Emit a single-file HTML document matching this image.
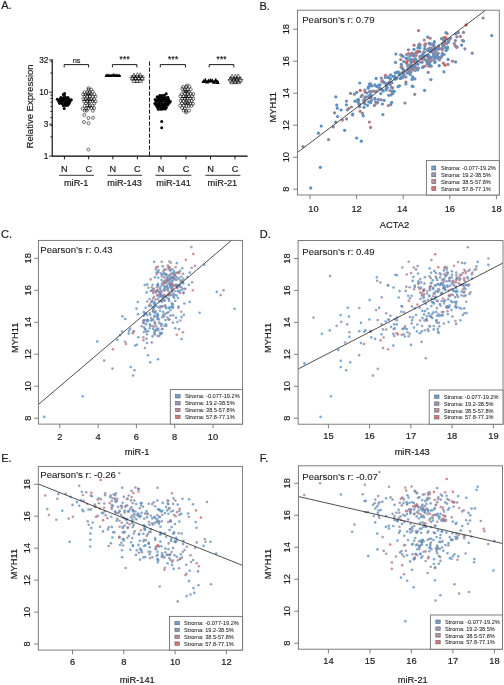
<!DOCTYPE html>
<html lang="en"><head><meta charset="utf-8"><title>Figure</title>
<style>html,body{margin:0;padding:0;background:#fff}svg{display:block}text{font-family:"Liberation Sans", Arial, Helvetica, sans-serif;stroke:#1a1a1a}svg{stroke-width:0.18px}.a{fill:#5b91c1}.b{fill:#8688a4}.c{fill:#b67a86}.d{fill:#d65e5a}</style></head><body>
<svg width="504" height="685" viewBox="0 0 504 685" font-family='"Liberation Sans", Arial, Helvetica, sans-serif'>
<rect width="504" height="685" fill="#fff"/>
<g id="panelA">
<text x="1.2" y="9.2" font-size="11" fill="#1a1a1a">A.</text>
<path d="M52.2 59.6V156.1H247.6" stroke="#000" stroke-width="1.1" fill="none"/>
<path d="M52.2 156.1h-3.2M52.2 124.2h-3.2M52.2 92.2h-3.2M52.2 59.9h-3.2M52.2 136.9h-1.9M52.2 125.6h-1.9M52.2 117.6h-1.9M52.2 111.4h-1.9M52.2 106.4h-1.9M52.2 102.1h-1.9M52.2 98.4h-1.9M52.2 95.1h-1.9M52.2 73h-1.9M52.2 61.7h-1.9" stroke="#000" stroke-width="0.8" fill="none"/>
<g font-size="8.3" fill="#1a1a1a" text-anchor="end">
<text x="48.4" y="159.2">1</text>
<text x="48.4" y="127.3">3</text>
<text x="48.4" y="95.3">10</text>
<text x="48.4" y="63">32</text>
</g>
<text transform="translate(33.2 106.4) rotate(-90)" font-size="9.5" text-anchor="middle" fill="#1a1a1a">Relative Expression</text>
<path d="M64.4 156.1v3.3M88.7 156.1v3.3M112.9 156.1v3.3M137.4 156.1v3.3M161 156.1v3.3M186 156.1v3.3M210.5 156.1v3.3M235 156.1v3.3" stroke="#000" stroke-width="0.9" fill="none"/>
<g font-size="9.2" fill="#1a1a1a" text-anchor="middle">
<text x="64.4" y="172.2">N</text>
<text x="88.7" y="172.2">C</text>
<text x="112.9" y="172.2">N</text>
<text x="137.4" y="172.2">C</text>
<text x="161" y="172.2">N</text>
<text x="186" y="172.2">C</text>
<text x="210.5" y="172.2">N</text>
<text x="235" y="172.2">C</text>
<text x="76.2" y="185.6">miR-1</text>
<text x="124.6" y="185.6">miR-143</text>
<text x="173.6" y="185.6">miR-141</text>
<text x="222.4" y="185.6">miR-21</text>
</g>
<path d="M59 175.3H93.9M107.4 175.3H142.2M155.4 175.3H191.4M205.4 175.3H240.4" stroke="#000" stroke-width="0.8" fill="none"/>
<path d="M149.5 61.5V156" stroke="#000" stroke-width="0.9" stroke-dasharray="4.3 1.7" fill="none"/>
<path d="M64.2 67.4V64.6H88.6V67.4M112.4 67.4V64.6H136.9V67.4M160.3 67.4V64.6H185.5V67.4M209.2 67.4V64.6H233.8V67.4" stroke="#000" stroke-width="0.9" fill="none"/>
<g font-size="7.4" fill="#1a1a1a" text-anchor="middle">
<text x="76.6" y="62.8">ns</text>
<text x="124.7" y="62.1" font-size="8.2" letter-spacing="0.2">***</text>
<text x="173.2" y="62.1" font-size="8.2" letter-spacing="0.2">***</text>
<text x="221.6" y="62.1" font-size="8.2" letter-spacing="0.2">***</text>
</g>
<g fill="#000" stroke="none"><circle cx="64.2" cy="95.6" r="1.5"/><circle cx="60.9" cy="97.5" r="1.5"/><circle cx="63.2" cy="97.8" r="1.5"/><circle cx="65.7" cy="97.4" r="1.5"/><circle cx="68" cy="97.4" r="1.5"/><circle cx="57.3" cy="99.3" r="1.5"/><circle cx="59.6" cy="99.6" r="1.5"/><circle cx="62" cy="99.4" r="1.5"/><circle cx="64.2" cy="99.6" r="1.5"/><circle cx="66.5" cy="99.5" r="1.5"/><circle cx="69.2" cy="99.6" r="1.5"/><circle cx="71.3" cy="99.7" r="1.5"/><circle cx="58.6" cy="101.3" r="1.5"/><circle cx="60.7" cy="101.4" r="1.5"/><circle cx="63.2" cy="101.3" r="1.5"/><circle cx="65.7" cy="101.7" r="1.5"/><circle cx="67.9" cy="101.5" r="1.5"/><circle cx="70" cy="101.4" r="1.5"/><circle cx="59.6" cy="103.2" r="1.5"/><circle cx="62" cy="103.5" r="1.5"/><circle cx="64.6" cy="103.4" r="1.5"/><circle cx="66.9" cy="103.6" r="1.5"/><circle cx="69.2" cy="103.5" r="1.5"/><circle cx="63.2" cy="105.5" r="1.5"/><circle cx="65.5" cy="105.4" r="1.5"/><circle cx="67.8" cy="105.2" r="1.5"/><circle cx="64.6" cy="93.6" r="1.5"/><circle cx="64.2" cy="108.6" r="1.5"/><circle cx="63.4" cy="94.6" r="1.5"/></g>
<g fill="none" stroke="#000" stroke-width="0.55"><circle cx="88.5" cy="89.7" r="1.5"/><circle cx="91.2" cy="89.5" r="1.5"/><circle cx="84.6" cy="92.2" r="1.5"/><circle cx="87.4" cy="92.1" r="1.5"/><circle cx="89.6" cy="92.2" r="1.5"/><circle cx="92.6" cy="91.8" r="1.5"/><circle cx="83.1" cy="94.3" r="1.5"/><circle cx="85.5" cy="94.6" r="1.5"/><circle cx="88.5" cy="93.9" r="1.5"/><circle cx="90.9" cy="94.1" r="1.5"/><circle cx="94.4" cy="94.4" r="1.5"/><circle cx="84.5" cy="96.7" r="1.5"/><circle cx="87.2" cy="96.9" r="1.5"/><circle cx="89.7" cy="96.6" r="1.5"/><circle cx="92.8" cy="96.6" r="1.5"/><circle cx="95.5" cy="96.6" r="1.5"/><circle cx="83.4" cy="99.3" r="1.5"/><circle cx="85.5" cy="99" r="1.5"/><circle cx="88.8" cy="98.8" r="1.5"/><circle cx="91" cy="98.9" r="1.5"/><circle cx="94.1" cy="99.3" r="1.5"/><circle cx="84.2" cy="101.5" r="1.5"/><circle cx="87.1" cy="101" r="1.5"/><circle cx="90.2" cy="101.7" r="1.5"/><circle cx="92.5" cy="100.9" r="1.5"/><circle cx="95.6" cy="101.4" r="1.5"/><circle cx="85.9" cy="103.3" r="1.5"/><circle cx="88.9" cy="103.4" r="1.5"/><circle cx="94.2" cy="103.6" r="1.5"/><circle cx="84.7" cy="105.8" r="1.5"/><circle cx="89.7" cy="106.1" r="1.5"/><circle cx="92.5" cy="105.8" r="1.5"/><circle cx="82.7" cy="108.7" r="1.5"/><circle cx="86.1" cy="108.6" r="1.5"/><circle cx="88.2" cy="108.7" r="1.5"/><circle cx="91.5" cy="108" r="1.5"/><circle cx="94.1" cy="108.1" r="1.5"/><circle cx="84.7" cy="110.5" r="1.5"/><circle cx="86.7" cy="110.6" r="1.5"/><circle cx="92.8" cy="110.7" r="1.5"/><circle cx="84.3" cy="115" r="1.5"/><circle cx="88.4" cy="118" r="1.5"/><circle cx="93" cy="117.8" r="1.5"/><circle cx="83.9" cy="122" r="1.5"/><circle cx="88.5" cy="123.2" r="1.5"/><circle cx="88.4" cy="149.5" r="1.5"/><circle cx="88.5" cy="88.2" r="1.5"/></g>
<path d="M85.6 94.5h6M88.6 94.5v12M85.6 106.5h6M83.6 100.3h10" stroke="#000" stroke-width="0.7" fill="none"/>
<g fill="#000" stroke="none"><path d="M106.2 73.6l1.6 3.2h-3.2z"/><path d="M107.4 73.6l1.6 3.2h-3.2z"/><path d="M108.6 73.8l1.6 3.2h-3.2z"/><path d="M109.8 73.5l1.6 3.2h-3.2z"/><path d="M111 73.8l1.6 3.2h-3.2z"/><path d="M112.2 73.4l1.6 3.2h-3.2z"/><path d="M113.4 73.2l1.6 3.2h-3.2z"/><path d="M114.6 73.3l1.6 3.2h-3.2z"/><path d="M115.8 73.7l1.6 3.2h-3.2z"/><path d="M117 73.3l1.6 3.2h-3.2z"/><path d="M118.2 73.7l1.6 3.2h-3.2z"/><path d="M119.4 73.8l1.6 3.2h-3.2z"/></g>
<path d="M105.2 75.7H120.6" stroke="#000" stroke-width="1.5"/>
<g fill="none" stroke="#000" stroke-width="0.55"><path d="M133.9 72.9l2.2 4.4h-4.4z"/><path d="M137.4 72.6l2.2 4.4h-4.4z"/><path d="M140.3 72.8l2.2 4.4h-4.4z"/><path d="M132.5 75.5l2.2 4.4h-4.4z"/><path d="M135.4 75.4l2.2 4.4h-4.4z"/><path d="M138.7 75.2l2.2 4.4h-4.4z"/><path d="M142.1 75.7l2.2 4.4h-4.4z"/><path d="M134.3 78l2.2 4.4h-4.4z"/><path d="M137.1 78.1l2.2 4.4h-4.4z"/><path d="M140.3 77.9l2.2 4.4h-4.4z"/></g>
<path d="M129.4 77.6h15.8M131 79.9h12.6M130.4 75.8h13.8" stroke="#000" stroke-width="0.6" fill="none"/>
<g fill="#000" stroke="none"><circle cx="159.8" cy="95.4" r="1.5"/><circle cx="161.9" cy="95.4" r="1.5"/><circle cx="164.3" cy="95.3" r="1.5"/><circle cx="158.6" cy="97.6" r="1.5"/><circle cx="160.8" cy="97.6" r="1.5"/><circle cx="163" cy="97.4" r="1.5"/><circle cx="165.3" cy="97.4" r="1.5"/><circle cx="167.8" cy="97.3" r="1.5"/><circle cx="155.1" cy="99.4" r="1.5"/><circle cx="157.3" cy="99.6" r="1.5"/><circle cx="159.5" cy="99.3" r="1.5"/><circle cx="162.1" cy="99.6" r="1.5"/><circle cx="164.2" cy="99.2" r="1.5"/><circle cx="166.6" cy="99.6" r="1.5"/><circle cx="168.7" cy="99.5" r="1.5"/><circle cx="156.1" cy="101.2" r="1.5"/><circle cx="158.6" cy="101.3" r="1.5"/><circle cx="160.9" cy="101.2" r="1.5"/><circle cx="162.9" cy="101.1" r="1.5"/><circle cx="165.6" cy="101.3" r="1.5"/><circle cx="167.9" cy="101.2" r="1.5"/><circle cx="170.3" cy="101.6" r="1.5"/><circle cx="154.9" cy="103.5" r="1.5"/><circle cx="157.5" cy="103.4" r="1.5"/><circle cx="159.8" cy="103.4" r="1.5"/><circle cx="162" cy="103.5" r="1.5"/><circle cx="164.4" cy="103.4" r="1.5"/><circle cx="166.5" cy="103.3" r="1.5"/><circle cx="169.1" cy="103.2" r="1.5"/><circle cx="156.1" cy="105.2" r="1.5"/><circle cx="158.6" cy="105.5" r="1.5"/><circle cx="161.1" cy="105.2" r="1.5"/><circle cx="163.4" cy="105.4" r="1.5"/><circle cx="165.6" cy="105.3" r="1.5"/><circle cx="167.6" cy="105.1" r="1.5"/><circle cx="157.4" cy="107.2" r="1.5"/><circle cx="159.9" cy="107" r="1.5"/><circle cx="161.9" cy="107.1" r="1.5"/><circle cx="164.5" cy="107.3" r="1.5"/><circle cx="166.4" cy="107.4" r="1.5"/><circle cx="158.4" cy="109.2" r="1.5"/><circle cx="161" cy="109.3" r="1.5"/><circle cx="163" cy="109.1" r="1.5"/><circle cx="165.3" cy="109.1" r="1.5"/><circle cx="161.7" cy="121.5" r="1.5"/><circle cx="161.7" cy="127.7" r="1.5"/><circle cx="166.2" cy="93.8" r="1.5"/><circle cx="157.2" cy="96.8" r="1.5"/></g>
<g fill="none" stroke="#000" stroke-width="0.55"><circle cx="183.1" cy="87" r="1.55"/><circle cx="186.1" cy="86.9" r="1.55"/><circle cx="189.3" cy="86.5" r="1.55"/><circle cx="182.4" cy="88.9" r="1.55"/><circle cx="185.2" cy="89.6" r="1.55"/><circle cx="187.7" cy="89.5" r="1.55"/><circle cx="190.7" cy="89.3" r="1.55"/><circle cx="183.7" cy="91.5" r="1.55"/><circle cx="186" cy="91.3" r="1.55"/><circle cx="188.9" cy="91.9" r="1.55"/><circle cx="181.7" cy="94.2" r="1.55"/><circle cx="185" cy="93.9" r="1.55"/><circle cx="188" cy="94.1" r="1.55"/><circle cx="190.5" cy="93.7" r="1.55"/><circle cx="193.3" cy="94" r="1.55"/><circle cx="180.4" cy="96.3" r="1.55"/><circle cx="183.7" cy="96.4" r="1.55"/><circle cx="186.1" cy="96.1" r="1.55"/><circle cx="188.6" cy="96.2" r="1.55"/><circle cx="192.1" cy="96.1" r="1.55"/><circle cx="182.2" cy="98.9" r="1.55"/><circle cx="184.9" cy="98.7" r="1.55"/><circle cx="187.2" cy="98.3" r="1.55"/><circle cx="190.3" cy="98.4" r="1.55"/><circle cx="193.3" cy="98.7" r="1.55"/><circle cx="180.8" cy="100.7" r="1.55"/><circle cx="183.5" cy="101" r="1.55"/><circle cx="186.6" cy="101.2" r="1.55"/><circle cx="189.2" cy="101.4" r="1.55"/><circle cx="191.6" cy="100.7" r="1.55"/><circle cx="181.9" cy="103.3" r="1.55"/><circle cx="185.2" cy="103.2" r="1.55"/><circle cx="187.9" cy="103.2" r="1.55"/><circle cx="190.4" cy="103.7" r="1.55"/><circle cx="193" cy="103.8" r="1.55"/><circle cx="180.3" cy="105.6" r="1.55"/><circle cx="183.6" cy="105.5" r="1.55"/><circle cx="186.4" cy="106.1" r="1.55"/><circle cx="188.6" cy="106" r="1.55"/><circle cx="191.4" cy="105.9" r="1.55"/><circle cx="182.1" cy="107.9" r="1.55"/><circle cx="184.8" cy="108.6" r="1.55"/><circle cx="183.7" cy="110.4" r="1.55"/><circle cx="186.1" cy="110.9" r="1.55"/><circle cx="189" cy="110.6" r="1.55"/><circle cx="186" cy="112.4" r="1.55"/><circle cx="187" cy="85.6" r="1.55"/></g>
<path d="M183.2 91.2h6M186.2 91.2v12.6M183.2 103.8h6M181.2 97.5h10" stroke="#000" stroke-width="0.7" fill="none"/>
<g fill="#000" stroke="none"><path d="M203.6 78.9l2.1 4.2h-4.2z"/><path d="M205.3 77.8l2.1 4.2h-4.2z"/><path d="M207.1 79.4l2.1 4.2h-4.2z"/><path d="M208.8 78.3l2.1 4.2h-4.2z"/><path d="M210.6 77.9l2.1 4.2h-4.2z"/><path d="M212.3 78.2l2.1 4.2h-4.2z"/><path d="M214.1 79.5l2.1 4.2h-4.2z"/><path d="M215.8 77.7l2.1 4.2h-4.2z"/><path d="M217.6 79.8l2.1 4.2h-4.2z"/></g>
<path d="M202 81.6H219" stroke="#000" stroke-width="1.3"/>
<g fill="none" stroke="#000" stroke-width="0.55"><path d="M232.1 74.2l2.2 4.5h-4.5z"/><path d="M235.5 74.1l2.2 4.5h-4.5z"/><path d="M238.3 73.9l2.2 4.5h-4.5z"/><path d="M230.6 76.4l2.2 4.5h-4.5z"/><path d="M234.1 76.6l2.2 4.5h-4.5z"/><path d="M236.8 76.4l2.2 4.5h-4.5z"/><path d="M240.3 76.8l2.2 4.5h-4.5z"/><path d="M232.2 79.3l2.2 4.5h-4.5z"/><path d="M235.2 79l2.2 4.5h-4.5z"/><path d="M238.3 79.2l2.2 4.5h-4.5z"/></g>
<path d="M227.6 79.6h15.8M229 82.2h12.8M229 77.4h12.6" stroke="#000" stroke-width="0.6" fill="none"/>
</g>
<g>
<text x="259.5" y="9.5" font-size="11" fill="#1a1a1a">B.</text>
<clipPath id="clipB"><rect x="297.4" y="10.2" width="201.9" height="184.8"/></clipPath>
<g clip-path="url(#clipB)">
<g fill-opacity="1.0">
<circle class="a" cx="377.5" cy="86.5" r="1.6"/><circle class="b" cx="420.2" cy="45.1" r="1.6"/><circle class="d" cx="359.6" cy="104.1" r="1.6"/><circle class="a" cx="430.9" cy="79.6" r="1.6"/><circle class="b" cx="418.4" cy="51.5" r="1.6"/><circle class="b" cx="365.5" cy="97" r="1.6"/><circle class="a" cx="370.8" cy="95.2" r="1.6"/><circle class="a" cx="392.2" cy="91" r="1.6"/><circle class="a" cx="394.3" cy="91.3" r="1.6"/><circle class="b" cx="438.6" cy="45.9" r="1.6"/><circle class="c" cx="429.1" cy="60" r="1.6"/><circle class="a" cx="407.2" cy="72.9" r="1.6"/><circle class="b" cx="415.6" cy="60.2" r="1.6"/><circle class="a" cx="347.4" cy="109.8" r="1.6"/><circle class="a" cx="376.1" cy="78.4" r="1.6"/><circle class="a" cx="387.3" cy="87.8" r="1.6"/><circle class="a" cx="402.1" cy="77.5" r="1.6"/><circle class="b" cx="431.2" cy="66.2" r="1.6"/><circle class="b" cx="370.5" cy="102.3" r="1.6"/><circle class="a" cx="410.3" cy="74.5" r="1.6"/><circle class="a" cx="428.7" cy="55.5" r="1.6"/><circle class="a" cx="406.9" cy="63.4" r="1.6"/><circle class="a" cx="379.2" cy="88.8" r="1.6"/><circle class="c" cx="443.4" cy="63.2" r="1.6"/><circle class="b" cx="414.7" cy="66.2" r="1.6"/><circle class="b" cx="396.8" cy="78.5" r="1.6"/><circle class="a" cx="370.9" cy="91.5" r="1.6"/><circle class="a" cx="370.5" cy="94.7" r="1.6"/><circle class="b" cx="427.1" cy="62" r="1.6"/><circle class="a" cx="321.2" cy="126.1" r="1.6"/><circle class="c" cx="438.6" cy="48.1" r="1.6"/><circle class="c" cx="416.4" cy="52.2" r="1.6"/><circle class="c" cx="425.5" cy="43.8" r="1.6"/><circle class="a" cx="410.9" cy="71.8" r="1.6"/><circle class="a" cx="409.9" cy="66.9" r="1.6"/><circle class="a" cx="422.7" cy="54.3" r="1.6"/><circle class="a" cx="431" cy="51.1" r="1.6"/><circle class="c" cx="408.5" cy="53.5" r="1.6"/><circle class="a" cx="359.1" cy="104.6" r="1.6"/><circle class="b" cx="413.7" cy="55.6" r="1.6"/><circle class="b" cx="430.3" cy="43.7" r="1.6"/><circle class="b" cx="359.7" cy="106.8" r="1.6"/><circle class="d" cx="360.3" cy="90.4" r="1.6"/><circle class="a" cx="382.7" cy="90.4" r="1.6"/><circle class="a" cx="432.1" cy="51.9" r="1.6"/><circle class="a" cx="390.8" cy="104.6" r="1.6"/><circle class="b" cx="391.5" cy="87.4" r="1.6"/><circle class="a" cx="437" cy="56" r="1.6"/><circle class="a" cx="369.7" cy="95.3" r="1.6"/><circle class="a" cx="408.6" cy="73" r="1.6"/><circle class="a" cx="455.7" cy="34" r="1.6"/><circle class="a" cx="413.2" cy="67.8" r="1.6"/><circle class="b" cx="407.5" cy="69.7" r="1.6"/><circle class="a" cx="371.9" cy="86" r="1.6"/><circle class="a" cx="367.5" cy="105.3" r="1.6"/><circle class="b" cx="407.8" cy="66.2" r="1.6"/><circle class="c" cx="400.7" cy="59.6" r="1.6"/><circle class="a" cx="386.1" cy="90" r="1.6"/><circle class="a" cx="318.4" cy="133.2" r="1.6"/><circle class="a" cx="403.8" cy="61.6" r="1.6"/><circle class="c" cx="460.4" cy="36.4" r="1.6"/><circle class="b" cx="371.4" cy="100.4" r="1.6"/><circle class="b" cx="401" cy="77.2" r="1.6"/><circle class="b" cx="408.4" cy="49.8" r="1.6"/><circle class="a" cx="380.7" cy="93.6" r="1.6"/><circle class="a" cx="412.9" cy="68.3" r="1.6"/><circle class="a" cx="434.9" cy="62.4" r="1.6"/><circle class="d" cx="445.9" cy="37.9" r="1.6"/><circle class="a" cx="383.8" cy="82.5" r="1.6"/><circle class="c" cx="452.4" cy="61.2" r="1.6"/><circle class="a" cx="409.9" cy="56.1" r="1.6"/><circle class="c" cx="447.1" cy="33.6" r="1.6"/><circle class="a" cx="364.8" cy="103.7" r="1.6"/><circle class="b" cx="463.5" cy="32.4" r="1.6"/><circle class="b" cx="369.5" cy="97.7" r="1.6"/><circle class="b" cx="404.9" cy="103" r="1.6"/><circle class="a" cx="395.5" cy="62.4" r="1.6"/><circle class="b" cx="365" cy="97.2" r="1.6"/><circle class="a" cx="382.9" cy="114.5" r="1.6"/><circle class="a" cx="426.8" cy="60.7" r="1.6"/><circle class="b" cx="334.6" cy="112.8" r="1.6"/><circle class="a" cx="363.2" cy="115.8" r="1.6"/><circle class="a" cx="368.3" cy="88.2" r="1.6"/><circle class="b" cx="401.8" cy="66.9" r="1.6"/><circle class="b" cx="429.3" cy="48.3" r="1.6"/><circle class="c" cx="342.4" cy="120.1" r="1.6"/><circle class="b" cx="413.7" cy="56.1" r="1.6"/><circle class="a" cx="381.2" cy="89" r="1.6"/><circle class="b" cx="362.2" cy="95" r="1.6"/><circle class="a" cx="335.8" cy="96.8" r="1.6"/><circle class="a" cx="448.5" cy="42.1" r="1.6"/><circle class="b" cx="364.1" cy="102.4" r="1.6"/><circle class="a" cx="406.1" cy="58.2" r="1.6"/><circle class="a" cx="410.8" cy="71.9" r="1.6"/><circle class="a" cx="382" cy="81.7" r="1.6"/><circle class="b" cx="388.2" cy="83.1" r="1.6"/><circle class="b" cx="390.1" cy="84.8" r="1.6"/><circle class="b" cx="346.5" cy="101.1" r="1.6"/><circle class="b" cx="357.8" cy="100" r="1.6"/><circle class="a" cx="358.5" cy="99.9" r="1.6"/><circle class="b" cx="388.5" cy="77.2" r="1.6"/><circle class="b" cx="350.5" cy="93.4" r="1.6"/><circle class="a" cx="410.4" cy="55.3" r="1.6"/><circle class="c" cx="369.4" cy="122" r="1.6"/><circle class="a" cx="461.6" cy="45.1" r="1.6"/><circle class="c" cx="431.1" cy="50.9" r="1.6"/><circle class="a" cx="392" cy="82.7" r="1.6"/><circle class="a" cx="384.9" cy="82.9" r="1.6"/><circle class="a" cx="384.1" cy="100.3" r="1.6"/><circle class="a" cx="427.9" cy="49.6" r="1.6"/><circle class="c" cx="413.1" cy="65.8" r="1.6"/><circle class="b" cx="443.9" cy="45.5" r="1.6"/><circle class="b" cx="378.5" cy="99.4" r="1.6"/><circle class="c" cx="414.1" cy="45.2" r="1.6"/><circle class="a" cx="437.5" cy="54.7" r="1.6"/><circle class="a" cx="427.6" cy="37.1" r="1.6"/><circle class="a" cx="411.2" cy="60.6" r="1.6"/><circle class="a" cx="361.3" cy="141.2" r="1.6"/><circle class="b" cx="464.9" cy="48.8" r="1.6"/><circle class="b" cx="428.5" cy="58.1" r="1.6"/><circle class="b" cx="411.2" cy="63.8" r="1.6"/><circle class="a" cx="346.4" cy="104.8" r="1.6"/><circle class="c" cx="427.5" cy="50.3" r="1.6"/><circle class="a" cx="390.3" cy="78.5" r="1.6"/><circle class="c" cx="404.3" cy="71.6" r="1.6"/><circle class="a" cx="420" cy="56.3" r="1.6"/><circle class="a" cx="433.6" cy="43.6" r="1.6"/><circle class="b" cx="392.6" cy="87.8" r="1.6"/><circle class="a" cx="441.9" cy="55.7" r="1.6"/><circle class="a" cx="435.4" cy="55.7" r="1.6"/><circle class="d" cx="401.6" cy="55.3" r="1.6"/><circle class="b" cx="442.4" cy="49.8" r="1.6"/><circle class="a" cx="398.1" cy="86.7" r="1.6"/><circle class="a" cx="422.4" cy="58.7" r="1.6"/><circle class="b" cx="455.4" cy="40.6" r="1.6"/><circle class="a" cx="399.2" cy="74.4" r="1.6"/><circle class="a" cx="447.4" cy="49" r="1.6"/><circle class="b" cx="414.9" cy="78.9" r="1.6"/><circle class="b" cx="374.4" cy="105.4" r="1.6"/><circle class="b" cx="423.8" cy="55.9" r="1.6"/><circle class="a" cx="375.8" cy="102" r="1.6"/><circle class="a" cx="424.3" cy="52.2" r="1.6"/><circle class="a" cx="448.1" cy="59.4" r="1.6"/><circle class="b" cx="406.6" cy="54.5" r="1.6"/><circle class="b" cx="430" cy="57.4" r="1.6"/><circle class="b" cx="443.6" cy="38.2" r="1.6"/><circle class="a" cx="446" cy="32.6" r="1.6"/><circle class="a" cx="380.1" cy="84.8" r="1.6"/><circle class="a" cx="356.6" cy="138" r="1.6"/><circle class="a" cx="435.5" cy="56.4" r="1.6"/><circle class="c" cx="388.3" cy="105.6" r="1.6"/><circle class="a" cx="417.5" cy="70" r="1.6"/><circle class="a" cx="392.8" cy="93.6" r="1.6"/><circle class="b" cx="430.9" cy="48.4" r="1.6"/><circle class="a" cx="414.1" cy="54.8" r="1.6"/><circle class="b" cx="369.4" cy="91.6" r="1.6"/><circle class="a" cx="355" cy="101.2" r="1.6"/><circle class="c" cx="416.1" cy="55.3" r="1.6"/><circle class="b" cx="483.1" cy="18" r="1.6"/><circle class="b" cx="406" cy="77" r="1.6"/><circle class="b" cx="434.1" cy="45.3" r="1.6"/><circle class="c" cx="418.5" cy="30.6" r="1.6"/><circle class="a" cx="434.4" cy="41.7" r="1.6"/><circle class="b" cx="435.8" cy="48.2" r="1.6"/><circle class="c" cx="412.6" cy="69.3" r="1.6"/><circle class="a" cx="359.8" cy="83" r="1.6"/><circle class="b" cx="420.3" cy="62" r="1.6"/><circle class="c" cx="407.6" cy="60.6" r="1.6"/><circle class="b" cx="328.6" cy="139.6" r="1.6"/><circle class="a" cx="385.4" cy="77.5" r="1.6"/><circle class="b" cx="400.7" cy="54.8" r="1.6"/><circle class="a" cx="446.9" cy="43.2" r="1.6"/><circle class="a" cx="369.6" cy="96.8" r="1.6"/><circle class="b" cx="415.3" cy="58.6" r="1.6"/><circle class="a" cx="344.7" cy="130.3" r="1.6"/><circle class="b" cx="412.2" cy="86.2" r="1.6"/><circle class="c" cx="430.1" cy="38.2" r="1.6"/><circle class="b" cx="439.5" cy="60" r="1.6"/><circle class="b" cx="448.8" cy="40.2" r="1.6"/><circle class="a" cx="455.6" cy="61.9" r="1.6"/><circle class="b" cx="434.8" cy="58" r="1.6"/><circle class="a" cx="413.1" cy="66.5" r="1.6"/><circle class="a" cx="386.4" cy="85.6" r="1.6"/><circle class="c" cx="352.6" cy="114.9" r="1.6"/><circle class="b" cx="369.3" cy="84" r="1.6"/><circle class="b" cx="435.3" cy="51.3" r="1.6"/><circle class="a" cx="414.1" cy="59.8" r="1.6"/><circle class="b" cx="422.1" cy="62.3" r="1.6"/><circle class="a" cx="430.9" cy="57.7" r="1.6"/><circle class="a" cx="358.4" cy="100" r="1.6"/><circle class="a" cx="430.8" cy="51.6" r="1.6"/><circle class="d" cx="428.7" cy="57" r="1.6"/><circle class="c" cx="348.9" cy="108.3" r="1.6"/><circle class="a" cx="412.7" cy="76.9" r="1.6"/><circle class="a" cx="370.6" cy="83.9" r="1.6"/><circle class="a" cx="368.7" cy="101.8" r="1.6"/><circle class="b" cx="392.2" cy="92.7" r="1.6"/><circle class="a" cx="419.9" cy="47.9" r="1.6"/><circle class="a" cx="419.8" cy="51.7" r="1.6"/><circle class="b" cx="362.5" cy="113.4" r="1.6"/><circle class="a" cx="400.9" cy="78.5" r="1.6"/><circle class="a" cx="358" cy="102.2" r="1.6"/><circle class="a" cx="401.3" cy="64.4" r="1.6"/><circle class="a" cx="439.2" cy="65.7" r="1.6"/><circle class="b" cx="450.6" cy="38.3" r="1.6"/><circle class="b" cx="403.1" cy="77.3" r="1.6"/><circle class="a" cx="396.7" cy="72.6" r="1.6"/><circle class="c" cx="405.9" cy="82" r="1.6"/><circle class="b" cx="371.1" cy="97.4" r="1.6"/><circle class="a" cx="442.6" cy="45.5" r="1.6"/><circle class="a" cx="425" cy="46" r="1.6"/><circle class="a" cx="411.2" cy="66.9" r="1.6"/><circle class="b" cx="376.4" cy="91" r="1.6"/><circle class="a" cx="364.9" cy="99.3" r="1.6"/><circle class="b" cx="435.2" cy="53.2" r="1.6"/><circle class="a" cx="375.9" cy="86" r="1.6"/><circle class="a" cx="408.1" cy="69.7" r="1.6"/><circle class="d" cx="444.2" cy="37.7" r="1.6"/><circle class="c" cx="385.4" cy="75.3" r="1.6"/><circle class="a" cx="392.8" cy="91" r="1.6"/><circle class="a" cx="414" cy="66.5" r="1.6"/><circle class="b" cx="354.4" cy="94.2" r="1.6"/><circle class="b" cx="425.4" cy="59.8" r="1.6"/><circle class="a" cx="407.5" cy="58" r="1.6"/><circle class="a" cx="394.8" cy="76.4" r="1.6"/><circle class="c" cx="376.4" cy="103.2" r="1.6"/><circle class="b" cx="427.9" cy="50.6" r="1.6"/><circle class="b" cx="386.3" cy="88.4" r="1.6"/><circle class="a" cx="375" cy="99.2" r="1.6"/><circle class="a" cx="390.5" cy="79" r="1.6"/><circle class="a" cx="427" cy="56.1" r="1.6"/><circle class="a" cx="402" cy="76.9" r="1.6"/><circle class="a" cx="444" cy="54.5" r="1.6"/><circle class="a" cx="444.6" cy="39.1" r="1.6"/><circle class="a" cx="364" cy="107.3" r="1.6"/><circle class="d" cx="445" cy="65.2" r="1.6"/><circle class="b" cx="408.1" cy="71.9" r="1.6"/><circle class="a" cx="412.8" cy="78.5" r="1.6"/><circle class="a" cx="426.9" cy="61.8" r="1.6"/><circle class="a" cx="378.9" cy="85.2" r="1.6"/><circle class="a" cx="383.2" cy="91" r="1.6"/><circle class="b" cx="411.6" cy="68" r="1.6"/><circle class="a" cx="423.9" cy="58.8" r="1.6"/><circle class="b" cx="416.9" cy="63" r="1.6"/><circle class="b" cx="361.1" cy="96.7" r="1.6"/><circle class="a" cx="442.6" cy="43.5" r="1.6"/><circle class="c" cx="370.6" cy="127.4" r="1.6"/><circle class="c" cx="444.4" cy="42" r="1.6"/><circle class="b" cx="441.5" cy="38.7" r="1.6"/><circle class="b" cx="432.9" cy="46" r="1.6"/><circle class="a" cx="395.4" cy="79.2" r="1.6"/><circle class="b" cx="403.4" cy="74.3" r="1.6"/><circle class="b" cx="410.3" cy="59.7" r="1.6"/><circle class="a" cx="463.6" cy="41.1" r="1.6"/><circle class="b" cx="439" cy="57.3" r="1.6"/><circle class="a" cx="426.7" cy="55.7" r="1.6"/><circle class="a" cx="434.8" cy="61.3" r="1.6"/><circle class="b" cx="427.5" cy="64.1" r="1.6"/><circle class="a" cx="364.8" cy="90" r="1.6"/><circle class="b" cx="367.6" cy="96.8" r="1.6"/><circle class="c" cx="456.6" cy="47.3" r="1.6"/><circle class="b" cx="415.7" cy="63.7" r="1.6"/><circle class="a" cx="429.6" cy="64.8" r="1.6"/><circle class="b" cx="417.2" cy="52.6" r="1.6"/><circle class="c" cx="439.5" cy="48.7" r="1.6"/><circle class="b" cx="409.6" cy="65.3" r="1.6"/><circle class="a" cx="388.7" cy="95.3" r="1.6"/><circle class="a" cx="352.7" cy="114" r="1.6"/><circle class="a" cx="417.8" cy="69" r="1.6"/><circle class="a" cx="423.5" cy="56.5" r="1.6"/><circle class="b" cx="432" cy="60" r="1.6"/><circle class="a" cx="391.7" cy="102.3" r="1.6"/><circle class="a" cx="435.6" cy="49.2" r="1.6"/><circle class="c" cx="455.2" cy="45.8" r="1.6"/><circle class="c" cx="360.2" cy="111.3" r="1.6"/><circle class="b" cx="436.2" cy="50.3" r="1.6"/><circle class="b" cx="428.2" cy="72.4" r="1.6"/><circle class="a" cx="356.7" cy="92.3" r="1.6"/><circle class="a" cx="399.5" cy="85.8" r="1.6"/><circle class="b" cx="438.1" cy="53.2" r="1.6"/><circle class="a" cx="386.5" cy="87.4" r="1.6"/><circle class="a" cx="417.8" cy="64.3" r="1.6"/><circle class="c" cx="401" cy="67.1" r="1.6"/><circle class="a" cx="445.4" cy="47.6" r="1.6"/><circle class="a" cx="434.5" cy="48.1" r="1.6"/><circle class="a" cx="395" cy="78.7" r="1.6"/><circle class="c" cx="423.8" cy="57" r="1.6"/><circle class="a" cx="399.3" cy="72.8" r="1.6"/><circle class="b" cx="458.3" cy="32.7" r="1.6"/><circle class="a" cx="491.7" cy="35.6" r="1.6"/><circle class="a" cx="395.9" cy="54" r="1.6"/><circle class="a" cx="397.9" cy="71.9" r="1.6"/><circle class="b" cx="415.9" cy="67.7" r="1.6"/><circle class="c" cx="409.9" cy="53.9" r="1.6"/><circle class="a" cx="402.4" cy="68.6" r="1.6"/><circle class="a" cx="337.6" cy="116.5" r="1.6"/><circle class="a" cx="410.9" cy="61.9" r="1.6"/><circle class="b" cx="351.5" cy="107" r="1.6"/><circle class="b" cx="346.6" cy="118.9" r="1.6"/><circle class="b" cx="448" cy="64.4" r="1.6"/><circle class="b" cx="423.7" cy="51.9" r="1.6"/><circle class="a" cx="341.1" cy="110" r="1.6"/><circle class="a" cx="400.2" cy="78.3" r="1.6"/><circle class="a" cx="429.3" cy="50.6" r="1.6"/><circle class="a" cx="414" cy="49.3" r="1.6"/><circle class="c" cx="430.2" cy="61.7" r="1.6"/><circle class="a" cx="444.8" cy="41.7" r="1.6"/><circle class="b" cx="429" cy="66.2" r="1.6"/><circle class="b" cx="456.9" cy="36.8" r="1.6"/><circle class="c" cx="390.8" cy="82.8" r="1.6"/><circle class="a" cx="390.6" cy="74.8" r="1.6"/><circle class="a" cx="433.4" cy="56.4" r="1.6"/><circle class="a" cx="374.8" cy="84.9" r="1.6"/><circle class="a" cx="443.9" cy="71.8" r="1.6"/><circle class="a" cx="382.4" cy="104" r="1.6"/><circle class="b" cx="448.3" cy="40.1" r="1.6"/><circle class="b" cx="434.5" cy="58.5" r="1.6"/><circle class="a" cx="382.7" cy="80.9" r="1.6"/><circle class="b" cx="390" cy="90.5" r="1.6"/><circle class="a" cx="428.7" cy="62.8" r="1.6"/><circle class="b" cx="443.8" cy="40.4" r="1.6"/><circle class="a" cx="422.5" cy="67.5" r="1.6"/><circle class="b" cx="419.5" cy="44.1" r="1.6"/><circle class="d" cx="406.5" cy="62.4" r="1.6"/><circle class="b" cx="363.7" cy="100.2" r="1.6"/><circle class="b" cx="442.2" cy="48.3" r="1.6"/><circle class="b" cx="418.5" cy="68.1" r="1.6"/><circle class="a" cx="446.1" cy="50.6" r="1.6"/><circle class="b" cx="472.2" cy="53.2" r="1.6"/><circle class="a" cx="368.2" cy="87.1" r="1.6"/><circle class="b" cx="386.4" cy="84.1" r="1.6"/><circle class="b" cx="410.6" cy="71.1" r="1.6"/><circle class="a" cx="423.5" cy="66.6" r="1.6"/><circle class="a" cx="417.4" cy="60.8" r="1.6"/><circle class="a" cx="357.9" cy="99.7" r="1.6"/><circle class="b" cx="379.9" cy="88.4" r="1.6"/><circle class="b" cx="441" cy="57.6" r="1.6"/><circle class="b" cx="303" cy="146.5" r="1.6"/><circle class="a" cx="403.8" cy="69.9" r="1.6"/><circle class="b" cx="381.2" cy="99.8" r="1.6"/><circle class="b" cx="410.3" cy="71.7" r="1.6"/><circle class="a" cx="428.7" cy="56.1" r="1.6"/><circle class="b" cx="402.4" cy="72.6" r="1.6"/><circle class="c" cx="425.2" cy="66" r="1.6"/><circle class="a" cx="429.5" cy="64.2" r="1.6"/><circle class="b" cx="457.1" cy="46.9" r="1.6"/><circle class="a" cx="335.6" cy="122" r="1.6"/><circle class="c" cx="424.8" cy="44.7" r="1.6"/><circle class="a" cx="366.8" cy="93" r="1.6"/><circle class="b" cx="432.8" cy="49.6" r="1.6"/><circle class="c" cx="364.9" cy="91.8" r="1.6"/><circle class="c" cx="412.2" cy="53" r="1.6"/><circle class="c" cx="422.8" cy="59.2" r="1.6"/><circle class="b" cx="409.5" cy="69.7" r="1.6"/><circle class="a" cx="320.3" cy="167.3" r="1.6"/><circle class="b" cx="429.1" cy="43.3" r="1.6"/><circle class="a" cx="410.8" cy="66.8" r="1.6"/><circle class="a" cx="336.8" cy="105.1" r="1.6"/><circle class="b" cx="442.4" cy="53.3" r="1.6"/><circle class="a" cx="424.6" cy="90.3" r="1.6"/><circle class="a" cx="403" cy="56.4" r="1.6"/><circle class="c" cx="374.8" cy="91.4" r="1.6"/><circle class="a" cx="411.6" cy="59.6" r="1.6"/><circle class="a" cx="418.7" cy="45.4" r="1.6"/><circle class="a" cx="310.7" cy="187.9" r="1.6"/><circle class="a" cx="369.9" cy="85.8" r="1.6"/><circle class="a" cx="377.2" cy="86.6" r="1.6"/><circle class="d" cx="413.8" cy="61.7" r="1.6"/><circle class="a" cx="337.3" cy="108.2" r="1.6"/><circle class="c" cx="382" cy="80.9" r="1.6"/><circle class="a" cx="413.1" cy="54.3" r="1.6"/><circle class="a" cx="430.2" cy="44.2" r="1.6"/><circle class="a" cx="417.9" cy="47.9" r="1.6"/><circle class="a" cx="374.8" cy="98.4" r="1.6"/><circle class="c" cx="424.2" cy="40" r="1.6"/><circle class="b" cx="429.5" cy="61.7" r="1.6"/><circle class="d" cx="466.1" cy="24.9" r="1.6"/><circle class="a" cx="421" cy="56.4" r="1.6"/><circle class="b" cx="333.3" cy="126.8" r="1.6"/><circle class="a" cx="370.6" cy="102.7" r="1.6"/><circle class="a" cx="413" cy="86.5" r="1.6"/><circle class="d" cx="417.6" cy="51.5" r="1.6"/><circle class="a" cx="395.1" cy="72.8" r="1.6"/><circle class="a" cx="404.1" cy="74.9" r="1.6"/><circle class="b" cx="454.3" cy="43.6" r="1.6"/><circle class="a" cx="447.6" cy="47" r="1.6"/><circle class="a" cx="393" cy="76.3" r="1.6"/><circle class="b" cx="420.2" cy="58.2" r="1.6"/><circle class="b" cx="446.4" cy="43.4" r="1.6"/><circle class="a" cx="437.7" cy="58.4" r="1.6"/><circle class="a" cx="412.1" cy="79.5" r="1.6"/><circle class="b" cx="433.4" cy="54" r="1.6"/><circle class="b" cx="414.7" cy="94.3" r="1.6"/><circle class="a" cx="438.8" cy="49" r="1.6"/><circle class="b" cx="414.2" cy="54" r="1.6"/><circle class="b" cx="373.1" cy="91.2" r="1.6"/><circle class="b" cx="414.8" cy="70.5" r="1.6"/><circle class="a" cx="388" cy="77.2" r="1.6"/><circle class="b" cx="377.6" cy="102.4" r="1.6"/><circle class="a" cx="424.7" cy="48.7" r="1.6"/><circle class="a" cx="389.5" cy="81.9" r="1.6"/><circle class="c" cx="444.7" cy="43.8" r="1.6"/><circle class="b" cx="391.1" cy="95" r="1.6"/><circle class="b" cx="462.4" cy="40.4" r="1.6"/><circle class="a" cx="405.9" cy="84" r="1.6"/><circle class="b" cx="381.3" cy="78.1" r="1.6"/>
</g>
<line x1="297.4" y1="152.5" x2="485.5" y2="10.2" stroke="#222" stroke-width="0.8"/>
</g>
<rect x="297.4" y="10.2" width="201.9" height="184.8" fill="none" stroke="#707070" stroke-width="0.9"/>
<path d="M310 195v4.2M356.6 195v4.2M403.2 195v4.2M449.8 195v4.2M496.4 195v4.2M297.4 189.2h-4.2M297.4 157.2h-4.2M297.4 125.2h-4.2M297.4 93.2h-4.2M297.4 61.2h-4.2M297.4 29.2h-4.2" stroke="#707070" stroke-width="0.9" fill="none"/>
<g font-size="9.3" fill="#1a1a1a" text-anchor="middle">
<text x="313.5" y="212.2">10</text>
<text x="356.6" y="212.2">12</text>
<text x="402.2" y="212.2">14</text>
<text x="449.8" y="212.2">16</text>
<text x="496.4" y="212.2">18</text>
<text transform="translate(288.9 189.2) rotate(-90)">8</text>
<text transform="translate(288.9 157.2) rotate(-90)">10</text>
<text transform="translate(288.9 125.2) rotate(-90)">12</text>
<text transform="translate(288.9 93.2) rotate(-90)">14</text>
<text transform="translate(288.9 61.2) rotate(-90)">16</text>
<text transform="translate(288.9 29.2) rotate(-90)">18</text>
<text x="394.5" y="228.3">ACTA2</text>
<text transform="translate(276.4 107.3) rotate(-90)">MYH11</text>
</g>
<text x="302.2" y="23.3" font-size="9.6" fill="#1a1a1a" style="stroke-width:0.08px">Pearson’s r: 0.79</text>
<rect x="426.4" y="160.6" width="72.9" height="34.4" fill="#fff" stroke="#707070" stroke-width="0.9"/>
<g font-size="5.6" fill="#1a1a1a" style="stroke-width:0.05px">
<rect x="431.8" y="166" width="4.0" height="4.0" fill="#5b91c1" stroke="#4f5a66" stroke-width="0.55" fill-opacity="0.85"/>
<text x="441" y="170.1">Stroma: -0.077-19.2%</text>
<rect x="431.8" y="172.8" width="4.0" height="4.0" fill="#8688a4" stroke="#4f5a66" stroke-width="0.55" fill-opacity="0.85"/>
<text x="441" y="176.9">Stroma: 19.2-38.5%</text>
<rect x="431.8" y="179.7" width="4.0" height="4.0" fill="#b67a86" stroke="#4f5a66" stroke-width="0.55" fill-opacity="0.85"/>
<text x="441" y="183.8">Stroma: 38.5-57.8%</text>
<rect x="431.8" y="186.6" width="4.0" height="4.0" fill="#d65e5a" stroke="#4f5a66" stroke-width="0.55" fill-opacity="0.85"/>
<text x="441" y="190.7">Stroma: 57.8-77.1%</text>
</g>
</g>
<g>
<text x="1" y="238" font-size="11" fill="#1a1a1a">C.</text>
<clipPath id="clipC"><rect x="38.4" y="240.4" width="204.2" height="183.7"/></clipPath>
<g clip-path="url(#clipC)">
<g fill-opacity="0.78">
<circle class="b" cx="153.9" cy="288.9" r="1.3"/><circle class="b" cx="191.4" cy="247.1" r="1.3"/><circle class="a" cx="154.6" cy="333.8" r="1.3"/><circle class="a" cx="158.9" cy="319.4" r="1.3"/><circle class="a" cx="156.4" cy="291" r="1.3"/><circle class="a" cx="138" cy="314.3" r="1.3"/><circle class="c" cx="185.2" cy="288.7" r="1.3"/><circle class="a" cx="172.5" cy="284.7" r="1.3"/><circle class="b" cx="162.1" cy="283.6" r="1.3"/><circle class="b" cx="169.4" cy="261.5" r="1.3"/><circle class="c" cx="181.1" cy="281.3" r="1.3"/><circle class="a" cx="117.2" cy="339.8" r="1.3"/><circle class="a" cx="171.2" cy="285.2" r="1.3"/><circle class="b" cx="133.8" cy="331.3" r="1.3"/><circle class="a" cx="171.9" cy="291.5" r="1.3"/><circle class="a" cx="157.6" cy="313.9" r="1.3"/><circle class="a" cx="199.6" cy="312.7" r="1.3"/><circle class="a" cx="152.4" cy="320" r="1.3"/><circle class="b" cx="152.2" cy="326" r="1.3"/><circle class="a" cx="163.7" cy="289.9" r="1.3"/><circle class="a" cx="155.2" cy="331.1" r="1.3"/><circle class="a" cx="169.4" cy="307.6" r="1.3"/><circle class="a" cx="159" cy="291.9" r="1.3"/><circle class="b" cx="157" cy="287.2" r="1.3"/><circle class="a" cx="184.4" cy="303.5" r="1.3"/><circle class="c" cx="176.8" cy="334.7" r="1.3"/><circle class="a" cx="165.4" cy="320.1" r="1.3"/><circle class="c" cx="179.4" cy="272.9" r="1.3"/><circle class="a" cx="150.2" cy="314.7" r="1.3"/><circle class="b" cx="144" cy="320.2" r="1.3"/><circle class="a" cx="158.3" cy="330.2" r="1.3"/><circle class="a" cx="178.7" cy="291.4" r="1.3"/><circle class="a" cx="173.4" cy="274.5" r="1.3"/><circle class="d" cx="169.5" cy="319.5" r="1.3"/><circle class="a" cx="168.2" cy="276.1" r="1.3"/><circle class="b" cx="177.1" cy="285.2" r="1.3"/><circle class="b" cx="150" cy="325.8" r="1.3"/><circle class="b" cx="145.4" cy="329.4" r="1.3"/><circle class="b" cx="166.1" cy="307.1" r="1.3"/><circle class="b" cx="175.4" cy="279.7" r="1.3"/><circle class="a" cx="169.3" cy="283.8" r="1.3"/><circle class="b" cx="172.7" cy="288.8" r="1.3"/><circle class="a" cx="160.7" cy="295.7" r="1.3"/><circle class="b" cx="161.8" cy="324.1" r="1.3"/><circle class="c" cx="181.2" cy="311.8" r="1.3"/><circle class="a" cx="177.4" cy="322" r="1.3"/><circle class="a" cx="171.8" cy="287.7" r="1.3"/><circle class="b" cx="158" cy="298.8" r="1.3"/><circle class="c" cx="169.8" cy="274.9" r="1.3"/><circle class="a" cx="150.7" cy="290.7" r="1.3"/><circle class="a" cx="159.3" cy="301" r="1.3"/><circle class="a" cx="167.7" cy="281.3" r="1.3"/><circle class="a" cx="171.9" cy="289.7" r="1.3"/><circle class="b" cx="181.6" cy="282.4" r="1.3"/><circle class="a" cx="166.5" cy="297.4" r="1.3"/><circle class="a" cx="151" cy="320.6" r="1.3"/><circle class="a" cx="160.1" cy="288.7" r="1.3"/><circle class="b" cx="133.5" cy="331.5" r="1.3"/><circle class="b" cx="179.9" cy="292.9" r="1.3"/><circle class="a" cx="234.6" cy="308.7" r="1.3"/><circle class="c" cx="183" cy="273.8" r="1.3"/><circle class="b" cx="148.3" cy="287.7" r="1.3"/><circle class="b" cx="155.6" cy="299.6" r="1.3"/><circle class="b" cx="176.6" cy="277.3" r="1.3"/><circle class="b" cx="160.5" cy="307.6" r="1.3"/><circle class="a" cx="146.4" cy="338.8" r="1.3"/><circle class="a" cx="157.1" cy="295.6" r="1.3"/><circle class="c" cx="112.9" cy="349.2" r="1.3"/><circle class="c" cx="179.8" cy="286.1" r="1.3"/><circle class="a" cx="181.3" cy="276.7" r="1.3"/><circle class="a" cx="165.6" cy="296" r="1.3"/><circle class="b" cx="156" cy="269.2" r="1.3"/><circle class="a" cx="170.7" cy="285.5" r="1.3"/><circle class="b" cx="166.1" cy="274.6" r="1.3"/><circle class="b" cx="192.1" cy="282.3" r="1.3"/><circle class="a" cx="160.2" cy="332.8" r="1.3"/><circle class="b" cx="153" cy="319.5" r="1.3"/><circle class="a" cx="153.1" cy="329" r="1.3"/><circle class="a" cx="189.8" cy="272.6" r="1.3"/><circle class="a" cx="148.9" cy="305.9" r="1.3"/><circle class="a" cx="162.6" cy="328.8" r="1.3"/><circle class="c" cx="166" cy="280" r="1.3"/><circle class="b" cx="167.5" cy="317.5" r="1.3"/><circle class="a" cx="144.9" cy="313.8" r="1.3"/><circle class="a" cx="166.3" cy="325.9" r="1.3"/><circle class="c" cx="182.7" cy="282.1" r="1.3"/><circle class="b" cx="174.7" cy="291.1" r="1.3"/><circle class="a" cx="157.3" cy="319" r="1.3"/><circle class="b" cx="164.1" cy="297" r="1.3"/><circle class="b" cx="161.2" cy="273.2" r="1.3"/><circle class="a" cx="158" cy="359.3" r="1.3"/><circle class="b" cx="170.2" cy="295.3" r="1.3"/><circle class="b" cx="178.4" cy="307.9" r="1.3"/><circle class="a" cx="155.4" cy="313" r="1.3"/><circle class="b" cx="184.6" cy="289" r="1.3"/><circle class="a" cx="82.8" cy="396.3" r="1.3"/><circle class="a" cx="154.4" cy="331.7" r="1.3"/><circle class="b" cx="174.3" cy="274.4" r="1.3"/><circle class="a" cx="216.8" cy="291.9" r="1.3"/><circle class="b" cx="191.7" cy="267.8" r="1.3"/><circle class="a" cx="172.8" cy="305.4" r="1.3"/><circle class="a" cx="162.4" cy="295.9" r="1.3"/><circle class="b" cx="151.2" cy="306" r="1.3"/><circle class="a" cx="157.3" cy="316.4" r="1.3"/><circle class="a" cx="162.1" cy="317.2" r="1.3"/><circle class="a" cx="172.1" cy="283.6" r="1.3"/><circle class="b" cx="122" cy="331.5" r="1.3"/><circle class="a" cx="166.7" cy="289.8" r="1.3"/><circle class="b" cx="167.7" cy="289.1" r="1.3"/><circle class="c" cx="192.9" cy="290.3" r="1.3"/><circle class="a" cx="165.1" cy="305.4" r="1.3"/><circle class="a" cx="143.2" cy="322.6" r="1.3"/><circle class="b" cx="195" cy="265.8" r="1.3"/><circle class="b" cx="152.6" cy="284.7" r="1.3"/><circle class="c" cx="150" cy="304.3" r="1.3"/><circle class="a" cx="137.8" cy="302" r="1.3"/><circle class="a" cx="145" cy="329" r="1.3"/><circle class="c" cx="164.3" cy="294.9" r="1.3"/><circle class="b" cx="170.7" cy="286.5" r="1.3"/><circle class="b" cx="155.5" cy="330.1" r="1.3"/><circle class="a" cx="178.5" cy="306.6" r="1.3"/><circle class="a" cx="167" cy="313" r="1.3"/><circle class="c" cx="156.8" cy="274.3" r="1.3"/><circle class="a" cx="153" cy="311" r="1.3"/><circle class="b" cx="154.9" cy="323.4" r="1.3"/><circle class="c" cx="168.5" cy="269.1" r="1.3"/><circle class="a" cx="146.1" cy="331.4" r="1.3"/><circle class="a" cx="170.2" cy="283.1" r="1.3"/><circle class="b" cx="153.7" cy="326.8" r="1.3"/><circle class="a" cx="160.9" cy="333.7" r="1.3"/><circle class="a" cx="163.9" cy="274.2" r="1.3"/><circle class="b" cx="172.4" cy="277.4" r="1.3"/><circle class="a" cx="172.8" cy="307.5" r="1.3"/><circle class="b" cx="170.8" cy="278.9" r="1.3"/><circle class="d" cx="132.8" cy="333.2" r="1.3"/><circle class="b" cx="164.1" cy="300.8" r="1.3"/><circle class="c" cx="150.7" cy="279.4" r="1.3"/><circle class="a" cx="178.9" cy="278.4" r="1.3"/><circle class="b" cx="172.1" cy="285" r="1.3"/><circle class="a" cx="155" cy="306.3" r="1.3"/><circle class="a" cx="156.4" cy="306" r="1.3"/><circle class="a" cx="146.7" cy="292.4" r="1.3"/><circle class="b" cx="183.5" cy="278.7" r="1.3"/><circle class="a" cx="183.9" cy="314.8" r="1.3"/><circle class="c" cx="143.3" cy="320.9" r="1.3"/><circle class="b" cx="130.2" cy="328.8" r="1.3"/><circle class="a" cx="166.1" cy="275.1" r="1.3"/><circle class="b" cx="173.6" cy="272.8" r="1.3"/><circle class="c" cx="171.3" cy="289.1" r="1.3"/><circle class="c" cx="161.9" cy="276.4" r="1.3"/><circle class="c" cx="183.5" cy="292.3" r="1.3"/><circle class="a" cx="161.7" cy="300.9" r="1.3"/><circle class="b" cx="175" cy="275" r="1.3"/><circle class="a" cx="171.3" cy="306.6" r="1.3"/><circle class="a" cx="172.6" cy="307.6" r="1.3"/><circle class="a" cx="122.5" cy="316.2" r="1.3"/><circle class="a" cx="158.4" cy="270.2" r="1.3"/><circle class="b" cx="153.1" cy="293.1" r="1.3"/><circle class="b" cx="159.3" cy="295.2" r="1.3"/><circle class="a" cx="136.5" cy="308.6" r="1.3"/><circle class="a" cx="167.1" cy="285.5" r="1.3"/><circle class="b" cx="155.8" cy="292.7" r="1.3"/><circle class="c" cx="166.7" cy="277.8" r="1.3"/><circle class="a" cx="176.1" cy="284.8" r="1.3"/><circle class="a" cx="173.8" cy="278.1" r="1.3"/><circle class="a" cx="167.9" cy="278.3" r="1.3"/><circle class="a" cx="183.3" cy="283.4" r="1.3"/><circle class="c" cx="153.1" cy="298.3" r="1.3"/><circle class="a" cx="182.2" cy="268.2" r="1.3"/><circle class="a" cx="154" cy="303.9" r="1.3"/><circle class="a" cx="160.8" cy="293.5" r="1.3"/><circle class="a" cx="172.9" cy="322.7" r="1.3"/><circle class="b" cx="168.3" cy="279.4" r="1.3"/><circle class="a" cx="161.6" cy="280.1" r="1.3"/><circle class="d" cx="152.2" cy="290.8" r="1.3"/><circle class="b" cx="169.8" cy="267.4" r="1.3"/><circle class="b" cx="153.5" cy="291.1" r="1.3"/><circle class="a" cx="174.8" cy="294.7" r="1.3"/><circle class="b" cx="176.9" cy="287.1" r="1.3"/><circle class="a" cx="172.5" cy="304" r="1.3"/><circle class="b" cx="220.7" cy="295.1" r="1.3"/><circle class="a" cx="154" cy="312" r="1.3"/><circle class="a" cx="158.2" cy="285.5" r="1.3"/><circle class="a" cx="148.1" cy="320.3" r="1.3"/><circle class="a" cx="169.1" cy="279.7" r="1.3"/><circle class="b" cx="170.4" cy="277.5" r="1.3"/><circle class="b" cx="178.3" cy="272.4" r="1.3"/><circle class="b" cx="179.1" cy="329.1" r="1.3"/><circle class="b" cx="145.8" cy="313.2" r="1.3"/><circle class="b" cx="161.4" cy="292" r="1.3"/><circle class="a" cx="147" cy="343" r="1.3"/><circle class="a" cx="165" cy="280.7" r="1.3"/><circle class="c" cx="163.4" cy="284.4" r="1.3"/><circle class="a" cx="169.8" cy="283.4" r="1.3"/><circle class="d" cx="157.7" cy="266.8" r="1.3"/><circle class="a" cx="147.2" cy="315.1" r="1.3"/><circle class="c" cx="157.7" cy="295.1" r="1.3"/><circle class="a" cx="182.4" cy="280.7" r="1.3"/><circle class="a" cx="181.5" cy="339" r="1.3"/><circle class="a" cx="148.1" cy="331.3" r="1.3"/><circle class="c" cx="175.6" cy="267.3" r="1.3"/><circle class="a" cx="154.9" cy="277.2" r="1.3"/><circle class="b" cx="161.7" cy="261.8" r="1.3"/><circle class="c" cx="177.2" cy="288.3" r="1.3"/><circle class="a" cx="157.4" cy="285.2" r="1.3"/><circle class="b" cx="160.8" cy="300.9" r="1.3"/><circle class="a" cx="149.7" cy="328.3" r="1.3"/><circle class="b" cx="104.2" cy="360.6" r="1.3"/><circle class="a" cx="158.3" cy="277.8" r="1.3"/><circle class="b" cx="170.1" cy="269.6" r="1.3"/><circle class="b" cx="156.3" cy="326.4" r="1.3"/><circle class="b" cx="154.5" cy="316.9" r="1.3"/><circle class="c" cx="170.8" cy="262.7" r="1.3"/><circle class="b" cx="172.2" cy="269.3" r="1.3"/><circle class="b" cx="161.9" cy="329.2" r="1.3"/><circle class="b" cx="125" cy="341.8" r="1.3"/><circle class="c" cx="163.3" cy="296.1" r="1.3"/><circle class="c" cx="153" cy="310" r="1.3"/><circle class="a" cx="204.4" cy="264.7" r="1.3"/><circle class="b" cx="151.8" cy="287.3" r="1.3"/><circle class="a" cx="176.6" cy="285.2" r="1.3"/><circle class="a" cx="158.6" cy="307.6" r="1.3"/><circle class="b" cx="164.9" cy="300.2" r="1.3"/><circle class="c" cx="167.8" cy="265.5" r="1.3"/><circle class="d" cx="167.5" cy="280.6" r="1.3"/><circle class="b" cx="144.2" cy="320.6" r="1.3"/><circle class="b" cx="171.5" cy="280.9" r="1.3"/><circle class="b" cx="173.1" cy="293.5" r="1.3"/><circle class="b" cx="158.9" cy="322.5" r="1.3"/><circle class="b" cx="160.1" cy="287.5" r="1.3"/><circle class="b" cx="147.2" cy="301.5" r="1.3"/><circle class="b" cx="161.2" cy="325.9" r="1.3"/><circle class="a" cx="175.2" cy="300.9" r="1.3"/><circle class="a" cx="187.4" cy="277" r="1.3"/><circle class="a" cx="143.9" cy="315.7" r="1.3"/><circle class="a" cx="163" cy="311.7" r="1.3"/><circle class="a" cx="161.8" cy="301.7" r="1.3"/><circle class="c" cx="164.5" cy="290.8" r="1.3"/><circle class="c" cx="164.9" cy="282.6" r="1.3"/><circle class="a" cx="168" cy="287.9" r="1.3"/><circle class="a" cx="170.3" cy="270.8" r="1.3"/><circle class="c" cx="177.4" cy="272.9" r="1.3"/><circle class="a" cx="177.7" cy="291" r="1.3"/><circle class="b" cx="151.8" cy="342.4" r="1.3"/><circle class="b" cx="168.7" cy="298.8" r="1.3"/><circle class="a" cx="170" cy="285.5" r="1.3"/><circle class="b" cx="172.4" cy="295.2" r="1.3"/><circle class="b" cx="176" cy="272.7" r="1.3"/><circle class="a" cx="166" cy="324.3" r="1.3"/><circle class="b" cx="170.2" cy="283.1" r="1.3"/><circle class="b" cx="153" cy="289.3" r="1.3"/><circle class="a" cx="168.6" cy="299" r="1.3"/><circle class="a" cx="175.2" cy="328.2" r="1.3"/><circle class="a" cx="176.6" cy="295.6" r="1.3"/><circle class="d" cx="171.2" cy="284.3" r="1.3"/><circle class="b" cx="164.3" cy="277.4" r="1.3"/><circle class="a" cx="130.7" cy="367" r="1.3"/><circle class="a" cx="164.7" cy="288.4" r="1.3"/><circle class="d" cx="168.4" cy="267" r="1.3"/><circle class="a" cx="174.1" cy="297.7" r="1.3"/><circle class="a" cx="150.2" cy="362.2" r="1.3"/><circle class="b" cx="168.8" cy="280.6" r="1.3"/><circle class="a" cx="159.6" cy="296.9" r="1.3"/><circle class="b" cx="165.7" cy="269.5" r="1.3"/><circle class="a" cx="175.1" cy="285.4" r="1.3"/><circle class="b" cx="168.5" cy="295.3" r="1.3"/><circle class="d" cx="155.7" cy="291.5" r="1.3"/><circle class="b" cx="133" cy="375.5" r="1.3"/><circle class="b" cx="158" cy="317.5" r="1.3"/><circle class="b" cx="162" cy="306.4" r="1.3"/><circle class="a" cx="134.5" cy="370.2" r="1.3"/><circle class="c" cx="165" cy="283" r="1.3"/><circle class="a" cx="154.5" cy="315.8" r="1.3"/><circle class="b" cx="178.3" cy="286.7" r="1.3"/><circle class="a" cx="171.7" cy="273.3" r="1.3"/><circle class="b" cx="141.6" cy="326.3" r="1.3"/><circle class="a" cx="176.9" cy="279.7" r="1.3"/><circle class="b" cx="160.5" cy="306.3" r="1.3"/><circle class="b" cx="164.9" cy="313.9" r="1.3"/><circle class="a" cx="182.6" cy="288.9" r="1.3"/><circle class="d" cx="173.4" cy="286.1" r="1.3"/><circle class="c" cx="163.4" cy="271.1" r="1.3"/><circle class="a" cx="160" cy="310.8" r="1.3"/><circle class="b" cx="164.4" cy="286.4" r="1.3"/><circle class="d" cx="193.3" cy="254" r="1.3"/><circle class="a" cx="161.9" cy="333.1" r="1.3"/><circle class="a" cx="171" cy="278.1" r="1.3"/><circle class="b" cx="180.6" cy="280.4" r="1.3"/><circle class="b" cx="162.8" cy="297.2" r="1.3"/><circle class="a" cx="176" cy="317.8" r="1.3"/><circle class="a" cx="147.3" cy="321.4" r="1.3"/><circle class="a" cx="157.7" cy="315.6" r="1.3"/><circle class="b" cx="144.9" cy="348" r="1.3"/><circle class="a" cx="164.4" cy="325.8" r="1.3"/><circle class="a" cx="164" cy="272.7" r="1.3"/><circle class="b" cx="157.7" cy="335.9" r="1.3"/><circle class="a" cx="181.2" cy="287.1" r="1.3"/><circle class="b" cx="166.5" cy="283.1" r="1.3"/><circle class="b" cx="154.6" cy="321.8" r="1.3"/><circle class="b" cx="151.5" cy="301.7" r="1.3"/><circle class="a" cx="170.6" cy="315.6" r="1.3"/><circle class="a" cx="146" cy="324.3" r="1.3"/><circle class="a" cx="170.1" cy="293.9" r="1.3"/><circle class="b" cx="161.1" cy="290.8" r="1.3"/><circle class="b" cx="164.1" cy="316.4" r="1.3"/><circle class="a" cx="153" cy="311.5" r="1.3"/><circle class="a" cx="158" cy="290.9" r="1.3"/><circle class="c" cx="183" cy="332.2" r="1.3"/><circle class="a" cx="165.1" cy="287.5" r="1.3"/><circle class="c" cx="143.4" cy="340.3" r="1.3"/><circle class="a" cx="160.4" cy="323.8" r="1.3"/><circle class="c" cx="143.4" cy="337.4" r="1.3"/><circle class="c" cx="126.1" cy="343.9" r="1.3"/><circle class="a" cx="172.6" cy="281" r="1.3"/><circle class="a" cx="173.6" cy="296.6" r="1.3"/><circle class="a" cx="157.9" cy="315" r="1.3"/><circle class="b" cx="155.1" cy="324.1" r="1.3"/><circle class="c" cx="185.9" cy="259.7" r="1.3"/><circle class="a" cx="170.8" cy="287.3" r="1.3"/><circle class="a" cx="166.2" cy="308.2" r="1.3"/><circle class="a" cx="173.9" cy="271.1" r="1.3"/><circle class="a" cx="154.1" cy="261.7" r="1.3"/><circle class="b" cx="164.3" cy="269.5" r="1.3"/><circle class="a" cx="158.4" cy="272.3" r="1.3"/><circle class="a" cx="177.9" cy="298" r="1.3"/><circle class="a" cx="144.7" cy="285.1" r="1.3"/><circle class="a" cx="147.3" cy="284.4" r="1.3"/><circle class="b" cx="172.6" cy="277.9" r="1.3"/><circle class="b" cx="154.7" cy="334.4" r="1.3"/><circle class="a" cx="149.8" cy="324.4" r="1.3"/><circle class="a" cx="163.2" cy="314.9" r="1.3"/><circle class="b" cx="158.3" cy="328.5" r="1.3"/><circle class="a" cx="148" cy="355.2" r="1.3"/><circle class="c" cx="180.4" cy="320.5" r="1.3"/><circle class="a" cx="189.7" cy="301.9" r="1.3"/><circle class="a" cx="169.2" cy="301" r="1.3"/><circle class="b" cx="143.8" cy="332" r="1.3"/><circle class="a" cx="156.7" cy="329.3" r="1.3"/><circle class="a" cx="180.8" cy="290.3" r="1.3"/><circle class="a" cx="144.1" cy="327.4" r="1.3"/><circle class="b" cx="163.4" cy="282.2" r="1.3"/><circle class="b" cx="223.5" cy="290.3" r="1.3"/><circle class="b" cx="163.7" cy="281.7" r="1.3"/><circle class="a" cx="161.6" cy="274.6" r="1.3"/><circle class="b" cx="146.3" cy="320" r="1.3"/><circle class="a" cx="149.5" cy="299" r="1.3"/><circle class="d" cx="168.2" cy="294.3" r="1.3"/><circle class="a" cx="168.9" cy="308.1" r="1.3"/><circle class="b" cx="168.5" cy="312.1" r="1.3"/><circle class="b" cx="175.4" cy="276" r="1.3"/><circle class="a" cx="155.1" cy="303.5" r="1.3"/><circle class="c" cx="173.2" cy="277.1" r="1.3"/><circle class="a" cx="135.2" cy="345.5" r="1.3"/><circle class="b" cx="170.1" cy="275" r="1.3"/><circle class="a" cx="128.8" cy="333.6" r="1.3"/><circle class="b" cx="173.2" cy="315.3" r="1.3"/><circle class="a" cx="172" cy="277" r="1.3"/><circle class="a" cx="162.9" cy="298.8" r="1.3"/><circle class="b" cx="166.1" cy="274.1" r="1.3"/><circle class="b" cx="144" cy="323.3" r="1.3"/><circle class="a" cx="153.9" cy="308.6" r="1.3"/><circle class="b" cx="161" cy="294.4" r="1.3"/><circle class="a" cx="174.3" cy="278.6" r="1.3"/><circle class="b" cx="163.4" cy="306.3" r="1.3"/><circle class="b" cx="171.9" cy="303.4" r="1.3"/><circle class="b" cx="173.8" cy="278.9" r="1.3"/><circle class="a" cx="125.2" cy="319" r="1.3"/><circle class="b" cx="112.5" cy="368.6" r="1.3"/><circle class="a" cx="151.2" cy="318" r="1.3"/><circle class="b" cx="149.7" cy="313.1" r="1.3"/><circle class="a" cx="143.8" cy="312" r="1.3"/><circle class="c" cx="152.3" cy="300.7" r="1.3"/><circle class="b" cx="168.7" cy="291.4" r="1.3"/><circle class="b" cx="165.6" cy="296" r="1.3"/><circle class="b" cx="156.5" cy="272.4" r="1.3"/><circle class="a" cx="138.3" cy="337.3" r="1.3"/><circle class="a" cx="136.8" cy="344.8" r="1.3"/><circle class="a" cx="188.8" cy="284.8" r="1.3"/><circle class="a" cx="166.9" cy="286.8" r="1.3"/><circle class="a" cx="120.1" cy="335.1" r="1.3"/><circle class="a" cx="176.8" cy="263.1" r="1.3"/><circle class="a" cx="154.4" cy="302.1" r="1.3"/><circle class="a" cx="180.1" cy="270.8" r="1.3"/><circle class="c" cx="155.8" cy="311.1" r="1.3"/><circle class="a" cx="129.1" cy="330.9" r="1.3"/><circle class="a" cx="183.4" cy="293.2" r="1.3"/><circle class="a" cx="44.3" cy="416.9" r="1.3"/><circle class="a" cx="181.6" cy="316.9" r="1.3"/><circle class="a" cx="153.3" cy="307.4" r="1.3"/><circle class="a" cx="162.7" cy="266.2" r="1.3"/><circle class="a" cx="146.9" cy="334.3" r="1.3"/><circle class="a" cx="161.6" cy="285.5" r="1.3"/><circle class="a" cx="147.6" cy="320.1" r="1.3"/><circle class="a" cx="97.3" cy="341.4" r="1.3"/><circle class="a" cx="145.6" cy="307.8" r="1.3"/><circle class="a" cx="170.6" cy="310" r="1.3"/><circle class="a" cx="161.8" cy="296" r="1.3"/><circle class="a" cx="157.9" cy="283.9" r="1.3"/><circle class="c" cx="157.5" cy="289.7" r="1.3"/><circle class="b" cx="154" cy="296.8" r="1.3"/><circle class="b" cx="156.2" cy="267.3" r="1.3"/><circle class="b" cx="159.2" cy="336" r="1.3"/><circle class="a" cx="159.8" cy="293.3" r="1.3"/><circle class="a" cx="152.5" cy="336.4" r="1.3"/><circle class="a" cx="151.8" cy="301.9" r="1.3"/><circle class="a" cx="168.4" cy="319.4" r="1.3"/><circle class="a" cx="179.5" cy="284.6" r="1.3"/><circle class="a" cx="160.3" cy="334.1" r="1.3"/><circle class="b" cx="170.7" cy="283.9" r="1.3"/>
</g>
<line x1="38.4" y1="404.5" x2="231.5" y2="240.4" stroke="#222" stroke-width="0.8"/>
</g>
<rect x="38.4" y="240.4" width="204.2" height="183.7" fill="none" stroke="#707070" stroke-width="0.9"/>
<path d="M59.8 424.1v4.2M98.1 424.1v4.2M136.4 424.1v4.2M174.7 424.1v4.2M213 424.1v4.2M38.4 418.2h-4.2M38.4 386.2h-4.2M38.4 354.2h-4.2M38.4 322.3h-4.2M38.4 290.3h-4.2M38.4 258.3h-4.2" stroke="#707070" stroke-width="0.9" fill="none"/>
<g font-size="9.3" fill="#1a1a1a" text-anchor="middle">
<text x="59.8" y="439.5">2</text>
<text x="98.1" y="439.5">4</text>
<text x="136.4" y="439.5">6</text>
<text x="174.7" y="439.5">8</text>
<text x="213" y="439.5">10</text>
<text transform="translate(30.8 418.2) rotate(-90)">8</text>
<text transform="translate(30.8 386.2) rotate(-90)">10</text>
<text transform="translate(30.8 354.2) rotate(-90)">12</text>
<text transform="translate(30.8 322.3) rotate(-90)">14</text>
<text transform="translate(30.8 290.3) rotate(-90)">16</text>
<text transform="translate(30.8 258.3) rotate(-90)">18</text>
<text x="137.1" y="455.2">miR-1</text>
<text transform="translate(17.9 337.8) rotate(-90)">MYH11</text>
</g>
<text x="40.3" y="252.5" font-size="9.6" fill="#1a1a1a" style="stroke-width:0.08px">Pearson’s r: 0.43</text>
<rect x="170.3" y="389.6" width="72.3" height="34.5" fill="#fff" stroke="#707070" stroke-width="0.9"/>
<g font-size="5.6" fill="#1a1a1a" style="stroke-width:0.05px">
<rect x="175.7" y="394.6" width="4.4" height="3.4" fill="#5b91c1" stroke="#4f5a66" stroke-width="0.55" fill-opacity="0.85"/>
<text x="184.9" y="398.4">Stroma: -0.077-19.2%</text>
<rect x="175.7" y="401.5" width="4.4" height="3.4" fill="#8688a4" stroke="#4f5a66" stroke-width="0.55" fill-opacity="0.85"/>
<text x="184.9" y="405.3">Stroma: 19.2-38.5%</text>
<rect x="175.7" y="408.3" width="4.4" height="3.4" fill="#b67a86" stroke="#4f5a66" stroke-width="0.55" fill-opacity="0.85"/>
<text x="184.9" y="412.1">Stroma: 38.5-57.8%</text>
<rect x="175.7" y="415.2" width="4.4" height="3.4" fill="#d65e5a" stroke="#4f5a66" stroke-width="0.55" fill-opacity="0.85"/>
<text x="184.9" y="419">Stroma: 57.8-77.1%</text>
</g>
</g>
<g>
<text x="259.7" y="237.6" font-size="11" fill="#1a1a1a">D.</text>
<clipPath id="clipD"><rect x="298.1" y="240.5" width="204.9" height="183.7"/></clipPath>
<g clip-path="url(#clipD)">
<g fill-opacity="0.78">
<circle class="c" cx="464.2" cy="278" r="1.3"/><circle class="a" cx="360.9" cy="343.1" r="1.3"/><circle class="a" cx="442.8" cy="315.2" r="1.3"/><circle class="b" cx="431.3" cy="299" r="1.3"/><circle class="b" cx="456.9" cy="277.7" r="1.3"/><circle class="c" cx="459.6" cy="280.1" r="1.3"/><circle class="b" cx="421.6" cy="293.3" r="1.3"/><circle class="b" cx="437.8" cy="284.1" r="1.3"/><circle class="b" cx="453.6" cy="291.3" r="1.3"/><circle class="b" cx="386.1" cy="329.5" r="1.3"/><circle class="a" cx="376.9" cy="277.2" r="1.3"/><circle class="b" cx="397.2" cy="317.6" r="1.3"/><circle class="b" cx="439.3" cy="326.2" r="1.3"/><circle class="a" cx="396.7" cy="324.4" r="1.3"/><circle class="b" cx="417.6" cy="266" r="1.3"/><circle class="a" cx="401.5" cy="306.1" r="1.3"/><circle class="a" cx="449" cy="307.5" r="1.3"/><circle class="a" cx="428.7" cy="313.2" r="1.3"/><circle class="b" cx="430.7" cy="278.1" r="1.3"/><circle class="a" cx="414" cy="327.6" r="1.3"/><circle class="b" cx="403.1" cy="328.6" r="1.3"/><circle class="c" cx="407.4" cy="332.3" r="1.3"/><circle class="b" cx="398" cy="334.5" r="1.3"/><circle class="b" cx="421.6" cy="341.9" r="1.3"/><circle class="a" cx="401.4" cy="311.7" r="1.3"/><circle class="a" cx="456" cy="279.9" r="1.3"/><circle class="a" cx="444.4" cy="278.8" r="1.3"/><circle class="b" cx="435.7" cy="291.3" r="1.3"/><circle class="a" cx="451.9" cy="271.3" r="1.3"/><circle class="b" cx="404.2" cy="312.3" r="1.3"/><circle class="c" cx="419.7" cy="288.9" r="1.3"/><circle class="c" cx="448.7" cy="290.4" r="1.3"/><circle class="a" cx="394.1" cy="324.4" r="1.3"/><circle class="c" cx="447.5" cy="311.2" r="1.3"/><circle class="b" cx="451.6" cy="289.2" r="1.3"/><circle class="d" cx="469.1" cy="284.5" r="1.3"/><circle class="a" cx="453.7" cy="290.5" r="1.3"/><circle class="a" cx="467.9" cy="278.5" r="1.3"/><circle class="b" cx="453.9" cy="282.6" r="1.3"/><circle class="a" cx="466.5" cy="313.1" r="1.3"/><circle class="a" cx="414.8" cy="308.2" r="1.3"/><circle class="a" cx="440.8" cy="274.4" r="1.3"/><circle class="c" cx="429.8" cy="288.4" r="1.3"/><circle class="b" cx="423.3" cy="301.6" r="1.3"/><circle class="b" cx="377.2" cy="280.8" r="1.3"/><circle class="a" cx="443.6" cy="287.7" r="1.3"/><circle class="b" cx="433.6" cy="293.6" r="1.3"/><circle class="a" cx="411.7" cy="295.7" r="1.3"/><circle class="b" cx="466.2" cy="301.8" r="1.3"/><circle class="b" cx="441.7" cy="293" r="1.3"/><circle class="a" cx="371.3" cy="337.4" r="1.3"/><circle class="a" cx="432.2" cy="302.1" r="1.3"/><circle class="a" cx="393.3" cy="333.9" r="1.3"/><circle class="c" cx="463" cy="289.2" r="1.3"/><circle class="a" cx="436.1" cy="320.7" r="1.3"/><circle class="b" cx="419.7" cy="307.7" r="1.3"/><circle class="a" cx="460.1" cy="284.9" r="1.3"/><circle class="a" cx="444.3" cy="285.6" r="1.3"/><circle class="c" cx="423.5" cy="289.9" r="1.3"/><circle class="a" cx="428.4" cy="331" r="1.3"/><circle class="a" cx="455.8" cy="291.1" r="1.3"/><circle class="b" cx="488.4" cy="258.5" r="1.3"/><circle class="a" cx="424.5" cy="283.5" r="1.3"/><circle class="b" cx="465.6" cy="295.4" r="1.3"/><circle class="a" cx="304.5" cy="363.4" r="1.3"/><circle class="a" cx="447.3" cy="285.6" r="1.3"/><circle class="a" cx="425.8" cy="303.7" r="1.3"/><circle class="b" cx="394.3" cy="336" r="1.3"/><circle class="c" cx="455.5" cy="321" r="1.3"/><circle class="a" cx="446.4" cy="306.5" r="1.3"/><circle class="a" cx="385.6" cy="321.5" r="1.3"/><circle class="a" cx="320.6" cy="416.9" r="1.3"/><circle class="a" cx="430.7" cy="316.5" r="1.3"/><circle class="d" cx="396.7" cy="333.3" r="1.3"/><circle class="b" cx="458.1" cy="296.9" r="1.3"/><circle class="d" cx="424" cy="294.4" r="1.3"/><circle class="b" cx="422.1" cy="326" r="1.3"/><circle class="a" cx="439.4" cy="315.9" r="1.3"/><circle class="c" cx="431.6" cy="282.8" r="1.3"/><circle class="a" cx="427" cy="293.5" r="1.3"/><circle class="a" cx="388.6" cy="319.5" r="1.3"/><circle class="a" cx="410" cy="298.2" r="1.3"/><circle class="b" cx="408.7" cy="261.7" r="1.3"/><circle class="c" cx="383.6" cy="337.5" r="1.3"/><circle class="a" cx="430.2" cy="290" r="1.3"/><circle class="a" cx="434.3" cy="270.9" r="1.3"/><circle class="a" cx="460.3" cy="320.2" r="1.3"/><circle class="a" cx="449.6" cy="305.5" r="1.3"/><circle class="c" cx="433.2" cy="296.3" r="1.3"/><circle class="a" cx="435.5" cy="285.4" r="1.3"/><circle class="a" cx="427.4" cy="308.8" r="1.3"/><circle class="b" cx="464.3" cy="269.7" r="1.3"/><circle class="a" cx="438.5" cy="314" r="1.3"/><circle class="b" cx="442.7" cy="283.2" r="1.3"/><circle class="b" cx="425.1" cy="301.1" r="1.3"/><circle class="a" cx="452.4" cy="302.3" r="1.3"/><circle class="a" cx="409.7" cy="333.8" r="1.3"/><circle class="b" cx="435.2" cy="285.2" r="1.3"/><circle class="a" cx="412.9" cy="317.4" r="1.3"/><circle class="b" cx="349.4" cy="332.2" r="1.3"/><circle class="b" cx="445.4" cy="275.2" r="1.3"/><circle class="a" cx="451.7" cy="283.8" r="1.3"/><circle class="b" cx="449.2" cy="296.2" r="1.3"/><circle class="a" cx="455.9" cy="304" r="1.3"/><circle class="c" cx="376" cy="310.1" r="1.3"/><circle class="a" cx="455.3" cy="297.1" r="1.3"/><circle class="a" cx="437.3" cy="301" r="1.3"/><circle class="b" cx="464.6" cy="281.1" r="1.3"/><circle class="c" cx="417.4" cy="304.5" r="1.3"/><circle class="b" cx="396.8" cy="320.3" r="1.3"/><circle class="b" cx="461.5" cy="295.4" r="1.3"/><circle class="d" cx="426.2" cy="319.6" r="1.3"/><circle class="c" cx="476.1" cy="269.2" r="1.3"/><circle class="a" cx="440.8" cy="284.6" r="1.3"/><circle class="b" cx="437.8" cy="291.5" r="1.3"/><circle class="c" cx="401.7" cy="334.8" r="1.3"/><circle class="b" cx="445" cy="300.4" r="1.3"/><circle class="b" cx="467.8" cy="247.3" r="1.3"/><circle class="a" cx="422.4" cy="310.9" r="1.3"/><circle class="a" cx="425" cy="311.1" r="1.3"/><circle class="a" cx="459.5" cy="307.7" r="1.3"/><circle class="b" cx="442.4" cy="279.9" r="1.3"/><circle class="c" cx="465.8" cy="273.1" r="1.3"/><circle class="a" cx="347.8" cy="307.8" r="1.3"/><circle class="a" cx="430.9" cy="283.3" r="1.3"/><circle class="b" cx="420.1" cy="279.1" r="1.3"/><circle class="a" cx="365.5" cy="330.4" r="1.3"/><circle class="a" cx="462.8" cy="315" r="1.3"/><circle class="a" cx="461.2" cy="308.7" r="1.3"/><circle class="c" cx="364" cy="344" r="1.3"/><circle class="a" cx="443.4" cy="312.1" r="1.3"/><circle class="a" cx="359.1" cy="355.3" r="1.3"/><circle class="a" cx="379.1" cy="307.9" r="1.3"/><circle class="a" cx="438.6" cy="332.9" r="1.3"/><circle class="a" cx="441.7" cy="301.1" r="1.3"/><circle class="a" cx="402.6" cy="329.1" r="1.3"/><circle class="a" cx="465.5" cy="289.1" r="1.3"/><circle class="c" cx="464.1" cy="279.6" r="1.3"/><circle class="a" cx="457.4" cy="291.1" r="1.3"/><circle class="b" cx="359.3" cy="308" r="1.3"/><circle class="a" cx="390.4" cy="315.7" r="1.3"/><circle class="b" cx="447" cy="267.5" r="1.3"/><circle class="a" cx="394.7" cy="328.4" r="1.3"/><circle class="b" cx="447.7" cy="306.2" r="1.3"/><circle class="a" cx="433.7" cy="329.4" r="1.3"/><circle class="b" cx="455.1" cy="306.4" r="1.3"/><circle class="b" cx="442.1" cy="292.9" r="1.3"/><circle class="b" cx="402.3" cy="267.5" r="1.3"/><circle class="a" cx="421.1" cy="287.9" r="1.3"/><circle class="b" cx="460.4" cy="278.8" r="1.3"/><circle class="b" cx="370.9" cy="331.6" r="1.3"/><circle class="b" cx="370.4" cy="331.4" r="1.3"/><circle class="a" cx="444.3" cy="301.2" r="1.3"/><circle class="b" cx="447.1" cy="274.6" r="1.3"/><circle class="a" cx="350.2" cy="362.3" r="1.3"/><circle class="a" cx="436.6" cy="320.1" r="1.3"/><circle class="a" cx="463.6" cy="284.9" r="1.3"/><circle class="a" cx="456.2" cy="323.9" r="1.3"/><circle class="b" cx="386.2" cy="313.3" r="1.3"/><circle class="a" cx="349" cy="316.6" r="1.3"/><circle class="b" cx="336.6" cy="325.9" r="1.3"/><circle class="a" cx="359.3" cy="331.2" r="1.3"/><circle class="a" cx="364.1" cy="331.8" r="1.3"/><circle class="a" cx="340.8" cy="367.1" r="1.3"/><circle class="b" cx="448" cy="272.9" r="1.3"/><circle class="b" cx="381.6" cy="324.2" r="1.3"/><circle class="a" cx="467.3" cy="277.1" r="1.3"/><circle class="b" cx="418.4" cy="283.8" r="1.3"/><circle class="a" cx="452" cy="274.7" r="1.3"/><circle class="a" cx="441.8" cy="314.8" r="1.3"/><circle class="a" cx="414.8" cy="285.6" r="1.3"/><circle class="b" cx="446.8" cy="269.5" r="1.3"/><circle class="d" cx="438.3" cy="267.2" r="1.3"/><circle class="b" cx="460.1" cy="274.7" r="1.3"/><circle class="b" cx="443.8" cy="323.5" r="1.3"/><circle class="a" cx="438" cy="291.6" r="1.3"/><circle class="b" cx="424.4" cy="289.5" r="1.3"/><circle class="d" cx="445" cy="267" r="1.3"/><circle class="a" cx="433.5" cy="312.2" r="1.3"/><circle class="c" cx="454" cy="265.7" r="1.3"/><circle class="b" cx="418.3" cy="283.2" r="1.3"/><circle class="b" cx="388.3" cy="285.4" r="1.3"/><circle class="a" cx="399.6" cy="291.1" r="1.3"/><circle class="a" cx="387.8" cy="285.3" r="1.3"/><circle class="b" cx="377.7" cy="320.1" r="1.3"/><circle class="a" cx="418.4" cy="281.4" r="1.3"/><circle class="a" cx="444.9" cy="287.3" r="1.3"/><circle class="b" cx="372.9" cy="375.6" r="1.3"/><circle class="b" cx="444" cy="303.5" r="1.3"/><circle class="b" cx="347.2" cy="324.2" r="1.3"/><circle class="b" cx="436.8" cy="322.6" r="1.3"/><circle class="b" cx="377.9" cy="368.7" r="1.3"/><circle class="a" cx="393.5" cy="287.5" r="1.3"/><circle class="a" cx="349.4" cy="336.8" r="1.3"/><circle class="a" cx="429.7" cy="315.8" r="1.3"/><circle class="a" cx="449.8" cy="285.7" r="1.3"/><circle class="b" cx="416" cy="269.4" r="1.3"/><circle class="b" cx="380.4" cy="282.5" r="1.3"/><circle class="a" cx="424.1" cy="314.4" r="1.3"/><circle class="a" cx="418" cy="273.5" r="1.3"/><circle class="c" cx="448.9" cy="295.2" r="1.3"/><circle class="a" cx="462.7" cy="285.4" r="1.3"/><circle class="a" cx="431.4" cy="317" r="1.3"/><circle class="b" cx="414.1" cy="289.3" r="1.3"/><circle class="b" cx="447.6" cy="286.9" r="1.3"/><circle class="a" cx="439.2" cy="289.9" r="1.3"/><circle class="a" cx="457.1" cy="294.9" r="1.3"/><circle class="b" cx="464.5" cy="313.2" r="1.3"/><circle class="b" cx="451.4" cy="294.5" r="1.3"/><circle class="d" cx="464.4" cy="291.7" r="1.3"/><circle class="b" cx="421.1" cy="282.4" r="1.3"/><circle class="a" cx="429.3" cy="296.1" r="1.3"/><circle class="a" cx="381.5" cy="334.2" r="1.3"/><circle class="b" cx="405.1" cy="326.4" r="1.3"/><circle class="c" cx="462.1" cy="262.9" r="1.3"/><circle class="b" cx="452.7" cy="281.9" r="1.3"/><circle class="a" cx="435.9" cy="272.9" r="1.3"/><circle class="a" cx="465.7" cy="284.8" r="1.3"/><circle class="b" cx="432.2" cy="314" r="1.3"/><circle class="a" cx="446.5" cy="281.2" r="1.3"/><circle class="a" cx="456.3" cy="307.7" r="1.3"/><circle class="b" cx="442.7" cy="279.6" r="1.3"/><circle class="a" cx="369.6" cy="300" r="1.3"/><circle class="a" cx="456.5" cy="301.9" r="1.3"/><circle class="b" cx="457.4" cy="279.1" r="1.3"/><circle class="a" cx="407" cy="329.1" r="1.3"/><circle class="a" cx="441.1" cy="283.6" r="1.3"/><circle class="a" cx="447.8" cy="314.1" r="1.3"/><circle class="a" cx="330.9" cy="396.3" r="1.3"/><circle class="c" cx="461.3" cy="275.1" r="1.3"/><circle class="a" cx="443.9" cy="270.4" r="1.3"/><circle class="a" cx="434.9" cy="299.1" r="1.3"/><circle class="b" cx="440.1" cy="277.4" r="1.3"/><circle class="a" cx="456.2" cy="288.1" r="1.3"/><circle class="a" cx="422.5" cy="318.1" r="1.3"/><circle class="a" cx="429.3" cy="295.7" r="1.3"/><circle class="c" cx="380.5" cy="340.4" r="1.3"/><circle class="a" cx="414.8" cy="287" r="1.3"/><circle class="a" cx="439.8" cy="304.1" r="1.3"/><circle class="a" cx="404.9" cy="336.5" r="1.3"/><circle class="a" cx="437.2" cy="315.7" r="1.3"/><circle class="a" cx="321.9" cy="333.8" r="1.3"/><circle class="a" cx="433" cy="302.2" r="1.3"/><circle class="a" cx="375.1" cy="338.9" r="1.3"/><circle class="b" cx="421.8" cy="295.4" r="1.3"/><circle class="a" cx="396.9" cy="275.3" r="1.3"/><circle class="a" cx="464.2" cy="308.4" r="1.3"/><circle class="a" cx="432.8" cy="280.3" r="1.3"/><circle class="b" cx="450.1" cy="295.4" r="1.3"/><circle class="b" cx="441.4" cy="315.4" r="1.3"/><circle class="b" cx="451.8" cy="277.5" r="1.3"/><circle class="a" cx="456.9" cy="278.3" r="1.3"/><circle class="b" cx="474.6" cy="269.7" r="1.3"/><circle class="a" cx="445.7" cy="276.3" r="1.3"/><circle class="a" cx="340.8" cy="360.7" r="1.3"/><circle class="a" cx="443.5" cy="288.6" r="1.3"/><circle class="a" cx="395.5" cy="274.7" r="1.3"/><circle class="a" cx="416" cy="315" r="1.3"/><circle class="a" cx="424.8" cy="277.3" r="1.3"/><circle class="a" cx="429.6" cy="326" r="1.3"/><circle class="a" cx="468.4" cy="271" r="1.3"/><circle class="b" cx="411.9" cy="306.4" r="1.3"/><circle class="b" cx="383" cy="348" r="1.3"/><circle class="a" cx="448" cy="306.8" r="1.3"/><circle class="b" cx="439.8" cy="284.9" r="1.3"/><circle class="a" cx="463.8" cy="292.6" r="1.3"/><circle class="a" cx="432.3" cy="318" r="1.3"/><circle class="a" cx="413.4" cy="276.9" r="1.3"/><circle class="b" cx="405.7" cy="290.9" r="1.3"/><circle class="c" cx="431.4" cy="259.9" r="1.3"/><circle class="b" cx="435.5" cy="297.3" r="1.3"/><circle class="a" cx="464" cy="296.1" r="1.3"/><circle class="d" cx="430.8" cy="286.2" r="1.3"/><circle class="b" cx="382.9" cy="329.4" r="1.3"/><circle class="c" cx="443.9" cy="281.4" r="1.3"/><circle class="b" cx="438" cy="331.6" r="1.3"/><circle class="a" cx="416.9" cy="331.5" r="1.3"/><circle class="a" cx="449.4" cy="278.3" r="1.3"/><circle class="c" cx="388.1" cy="349.3" r="1.3"/><circle class="a" cx="468.4" cy="285.7" r="1.3"/><circle class="a" cx="410.9" cy="344.9" r="1.3"/><circle class="a" cx="338.3" cy="350" r="1.3"/><circle class="a" cx="405" cy="328.4" r="1.3"/><circle class="b" cx="345" cy="342.5" r="1.3"/><circle class="a" cx="464.9" cy="263.3" r="1.3"/><circle class="b" cx="409.6" cy="287.3" r="1.3"/><circle class="b" cx="456.3" cy="272.6" r="1.3"/><circle class="b" cx="444.5" cy="268" r="1.3"/><circle class="a" cx="447.2" cy="307.7" r="1.3"/><circle class="b" cx="449.1" cy="280.5" r="1.3"/><circle class="a" cx="423.6" cy="290.9" r="1.3"/><circle class="a" cx="448.6" cy="322.1" r="1.3"/><circle class="a" cx="441" cy="293.7" r="1.3"/><circle class="b" cx="393.7" cy="329" r="1.3"/><circle class="a" cx="451.4" cy="310.1" r="1.3"/><circle class="b" cx="428" cy="299.8" r="1.3"/><circle class="b" cx="313.5" cy="317.6" r="1.3"/><circle class="c" cx="408.8" cy="300.9" r="1.3"/><circle class="a" cx="433.8" cy="326" r="1.3"/><circle class="a" cx="340.6" cy="315.1" r="1.3"/><circle class="a" cx="393.3" cy="345.6" r="1.3"/><circle class="b" cx="341.3" cy="321.9" r="1.3"/><circle class="c" cx="461.4" cy="284.6" r="1.3"/><circle class="a" cx="429.7" cy="268.4" r="1.3"/><circle class="b" cx="445" cy="288.9" r="1.3"/><circle class="a" cx="424.6" cy="320.5" r="1.3"/><circle class="c" cx="444.4" cy="274" r="1.3"/><circle class="b" cx="438.3" cy="289.1" r="1.3"/><circle class="a" cx="449.7" cy="280.9" r="1.3"/><circle class="b" cx="458.1" cy="262" r="1.3"/><circle class="c" cx="427.4" cy="291" r="1.3"/><circle class="a" cx="394.8" cy="319.1" r="1.3"/><circle class="b" cx="406.3" cy="286.7" r="1.3"/><circle class="c" cx="441.9" cy="312" r="1.3"/><circle class="b" cx="388.7" cy="319.7" r="1.3"/><circle class="b" cx="402.3" cy="306.5" r="1.3"/><circle class="b" cx="427.9" cy="329.2" r="1.3"/><circle class="b" cx="429.9" cy="326.5" r="1.3"/><circle class="a" cx="456.6" cy="306.7" r="1.3"/><circle class="a" cx="440.5" cy="305.6" r="1.3"/><circle class="b" cx="429.5" cy="276.2" r="1.3"/><circle class="c" cx="420.1" cy="320.6" r="1.3"/><circle class="a" cx="476.4" cy="266.4" r="1.3"/><circle class="b" cx="408.7" cy="336.2" r="1.3"/><circle class="a" cx="454.8" cy="302" r="1.3"/><circle class="b" cx="433.3" cy="287.8" r="1.3"/><circle class="a" cx="431.4" cy="306.1" r="1.3"/><circle class="a" cx="461.6" cy="291.6" r="1.3"/><circle class="a" cx="408.2" cy="295.8" r="1.3"/><circle class="b" cx="439.7" cy="273.4" r="1.3"/><circle class="b" cx="381.6" cy="297.2" r="1.3"/><circle class="a" cx="445.3" cy="290.1" r="1.3"/><circle class="a" cx="435.7" cy="296.7" r="1.3"/><circle class="c" cx="458.6" cy="283.1" r="1.3"/><circle class="a" cx="453.6" cy="285.3" r="1.3"/><circle class="a" cx="437.8" cy="328.9" r="1.3"/><circle class="c" cx="455.8" cy="282.2" r="1.3"/><circle class="a" cx="431.8" cy="298.9" r="1.3"/><circle class="a" cx="472.1" cy="278.5" r="1.3"/><circle class="c" cx="455.8" cy="286.3" r="1.3"/><circle class="a" cx="329.8" cy="330.4" r="1.3"/><circle class="c" cx="453" cy="295" r="1.3"/><circle class="b" cx="462.7" cy="273" r="1.3"/><circle class="c" cx="420.3" cy="292.5" r="1.3"/><circle class="b" cx="418.7" cy="287.3" r="1.3"/><circle class="a" cx="423.5" cy="296.2" r="1.3"/><circle class="b" cx="456.4" cy="275.2" r="1.3"/><circle class="b" cx="420.5" cy="298.9" r="1.3"/><circle class="b" cx="411.7" cy="323.4" r="1.3"/><circle class="b" cx="437.4" cy="300.9" r="1.3"/><circle class="a" cx="446.8" cy="272.5" r="1.3"/><circle class="a" cx="426.9" cy="316.3" r="1.3"/><circle class="a" cx="434.7" cy="293.4" r="1.3"/><circle class="a" cx="421.7" cy="331.4" r="1.3"/><circle class="b" cx="429.8" cy="287.7" r="1.3"/><circle class="c" cx="459.3" cy="277.3" r="1.3"/><circle class="b" cx="425.7" cy="358.3" r="1.3"/><circle class="a" cx="438" cy="284.1" r="1.3"/><circle class="a" cx="456.2" cy="292.1" r="1.3"/><circle class="a" cx="423.6" cy="297.9" r="1.3"/><circle class="a" cx="436.3" cy="311.9" r="1.3"/><circle class="a" cx="433" cy="288.9" r="1.3"/><circle class="a" cx="436.3" cy="278" r="1.3"/><circle class="a" cx="426.6" cy="319.2" r="1.3"/><circle class="a" cx="403.6" cy="334.4" r="1.3"/><circle class="a" cx="412.6" cy="280.9" r="1.3"/><circle class="b" cx="464.4" cy="287.4" r="1.3"/><circle class="c" cx="435.8" cy="276.5" r="1.3"/><circle class="c" cx="413.8" cy="267.5" r="1.3"/><circle class="b" cx="430.1" cy="286.6" r="1.3"/><circle class="a" cx="369.4" cy="319.5" r="1.3"/><circle class="a" cx="412" cy="320.2" r="1.3"/><circle class="d" cx="453" cy="280.8" r="1.3"/><circle class="c" cx="411" cy="273.1" r="1.3"/><circle class="b" cx="410" cy="317" r="1.3"/><circle class="a" cx="346.1" cy="370.3" r="1.3"/><circle class="a" cx="361" cy="322.8" r="1.3"/><circle class="a" cx="398.7" cy="297.5" r="1.3"/><circle class="a" cx="438.9" cy="322.8" r="1.3"/><circle class="c" cx="465.3" cy="271.3" r="1.3"/><circle class="b" cx="446.5" cy="307.3" r="1.3"/><circle class="a" cx="451.1" cy="301.1" r="1.3"/><circle class="b" cx="470.4" cy="292.2" r="1.3"/><circle class="c" cx="406.8" cy="274.5" r="1.3"/><circle class="b" cx="436.9" cy="308.1" r="1.3"/><circle class="a" cx="477.7" cy="261.9" r="1.3"/><circle class="a" cx="469.4" cy="294" r="1.3"/><circle class="a" cx="466.8" cy="284.9" r="1.3"/><circle class="b" cx="469.6" cy="269.8" r="1.3"/><circle class="b" cx="424.8" cy="330.2" r="1.3"/><circle class="a" cx="431" cy="272.8" r="1.3"/><circle class="a" cx="443.3" cy="285.7" r="1.3"/><circle class="b" cx="452.4" cy="316.6" r="1.3"/><circle class="a" cx="441.5" cy="283.9" r="1.3"/><circle class="b" cx="472.4" cy="272.5" r="1.3"/><circle class="c" cx="443.1" cy="298.5" r="1.3"/><circle class="d" cx="435.2" cy="254.2" r="1.3"/><circle class="a" cx="419.9" cy="333.2" r="1.3"/><circle class="a" cx="417.4" cy="324.5" r="1.3"/><circle class="b" cx="449.9" cy="277.6" r="1.3"/><circle class="a" cx="448.3" cy="299.2" r="1.3"/><circle class="b" cx="391.1" cy="326.9" r="1.3"/><circle class="a" cx="488.4" cy="264.9" r="1.3"/><circle class="b" cx="471.8" cy="274.3" r="1.3"/><circle class="b" cx="330" cy="276.1" r="1.3"/><circle class="b" cx="426.9" cy="320.8" r="1.3"/><circle class="a" cx="433.9" cy="303.6" r="1.3"/><circle class="d" cx="423.4" cy="291" r="1.3"/><circle class="a" cx="437.2" cy="279.9" r="1.3"/>
</g>
<line x1="298.1" y1="369" x2="503" y2="263" stroke="#222" stroke-width="0.8"/>
</g>
<rect x="298.1" y="240.5" width="204.9" height="183.7" fill="none" stroke="#707070" stroke-width="0.9"/>
<path d="M328.4 424.2v4.2M369.6 424.2v4.2M410.9 424.2v4.2M452.1 424.2v4.2M493.4 424.2v4.2M298.1 418.2h-4.2M298.1 386.3h-4.2M298.1 354.3h-4.2M298.1 322.4h-4.2M298.1 290.4h-4.2M298.1 258.5h-4.2" stroke="#707070" stroke-width="0.9" fill="none"/>
<g font-size="9.3" fill="#1a1a1a" text-anchor="middle">
<text x="328.4" y="439.3">15</text>
<text x="369.6" y="439.3">16</text>
<text x="410.9" y="439.3">17</text>
<text x="452.1" y="439.3">18</text>
<text x="493.4" y="439.3">19</text>
<text transform="translate(289.7 418.2) rotate(-90)">8</text>
<text transform="translate(289.7 386.3) rotate(-90)">10</text>
<text transform="translate(289.7 354.3) rotate(-90)">12</text>
<text transform="translate(289.7 322.4) rotate(-90)">14</text>
<text transform="translate(289.7 290.4) rotate(-90)">16</text>
<text transform="translate(289.7 258.5) rotate(-90)">18</text>
<text x="412.2" y="454.8">miR-143</text>
<text transform="translate(271.3 337.9) rotate(-90)">MYH11</text>
</g>
<text x="302.3" y="254.5" font-size="9.6" fill="#1a1a1a" style="stroke-width:0.08px">Pearson’s r: 0.49</text>
<rect x="429.2" y="390" width="73.8" height="34.2" fill="#fff" stroke="#707070" stroke-width="0.9"/>
<g font-size="5.6" fill="#1a1a1a" style="stroke-width:0.05px">
<rect x="434.6" y="395" width="4.4" height="3.4" fill="#5b91c1" stroke="#4f5a66" stroke-width="0.55" fill-opacity="0.85"/>
<text x="443.8" y="398.8">Stroma: -0.077-19.2%</text>
<rect x="434.6" y="401.9" width="4.4" height="3.4" fill="#8688a4" stroke="#4f5a66" stroke-width="0.55" fill-opacity="0.85"/>
<text x="443.8" y="405.7">Stroma: 19.2-38.5%</text>
<rect x="434.6" y="408.7" width="4.4" height="3.4" fill="#b67a86" stroke="#4f5a66" stroke-width="0.55" fill-opacity="0.85"/>
<text x="443.8" y="412.5">Stroma: 38.5-57.8%</text>
<rect x="434.6" y="415.6" width="4.4" height="3.4" fill="#d65e5a" stroke="#4f5a66" stroke-width="0.55" fill-opacity="0.85"/>
<text x="443.8" y="419.4">Stroma: 57.8-77.1%</text>
</g>
</g>
<g>
<text x="1.2" y="461.8" font-size="11" fill="#1a1a1a">E.</text>
<clipPath id="clipE"><rect x="38.3" y="466.4" width="204.3" height="183.7"/></clipPath>
<g clip-path="url(#clipE)">
<g fill-opacity="0.78">
<circle class="b" cx="136.4" cy="514.7" r="1.3"/><circle class="d" cx="91.4" cy="492.8" r="1.3"/><circle class="b" cx="177.8" cy="560.3" r="1.3"/><circle class="b" cx="105.6" cy="515.3" r="1.3"/><circle class="a" cx="97.8" cy="515.8" r="1.3"/><circle class="a" cx="170.7" cy="521.5" r="1.3"/><circle class="b" cx="121.4" cy="542.8" r="1.3"/><circle class="b" cx="110.7" cy="495.5" r="1.3"/><circle class="a" cx="173.9" cy="533.5" r="1.3"/><circle class="a" cx="144.7" cy="529.8" r="1.3"/><circle class="b" cx="211" cy="584.3" r="1.3"/><circle class="b" cx="68.7" cy="518.6" r="1.3"/><circle class="a" cx="147.8" cy="534.2" r="1.3"/><circle class="d" cx="119.2" cy="512" r="1.3"/><circle class="a" cx="127.3" cy="522.9" r="1.3"/><circle class="b" cx="108.7" cy="546.1" r="1.3"/><circle class="a" cx="144.3" cy="528.1" r="1.3"/><circle class="a" cx="127.7" cy="527.7" r="1.3"/><circle class="a" cx="159.8" cy="509.9" r="1.3"/><circle class="a" cx="90.2" cy="546.5" r="1.3"/><circle class="b" cx="134.3" cy="517.3" r="1.3"/><circle class="a" cx="157.5" cy="559" r="1.3"/><circle class="b" cx="122.7" cy="539" r="1.3"/><circle class="a" cx="160.4" cy="541.6" r="1.3"/><circle class="c" cx="119.7" cy="526.7" r="1.3"/><circle class="b" cx="57.4" cy="498.7" r="1.3"/><circle class="a" cx="166.1" cy="536.7" r="1.3"/><circle class="b" cx="168.4" cy="549.3" r="1.3"/><circle class="b" cx="188.9" cy="516.7" r="1.3"/><circle class="a" cx="124" cy="532.5" r="1.3"/><circle class="a" cx="119.7" cy="510.7" r="1.3"/><circle class="c" cx="138" cy="488.7" r="1.3"/><circle class="b" cx="162.6" cy="557.2" r="1.3"/><circle class="a" cx="131.4" cy="507.2" r="1.3"/><circle class="b" cx="111.8" cy="501" r="1.3"/><circle class="a" cx="91.9" cy="496.2" r="1.3"/><circle class="c" cx="87.1" cy="503.8" r="1.3"/><circle class="a" cx="189.1" cy="499.3" r="1.3"/><circle class="a" cx="152.1" cy="523.3" r="1.3"/><circle class="a" cx="79.2" cy="505.7" r="1.3"/><circle class="c" cx="196.1" cy="510.4" r="1.3"/><circle class="a" cx="135.9" cy="554.9" r="1.3"/><circle class="c" cx="179.7" cy="508.9" r="1.3"/><circle class="a" cx="103.1" cy="513.3" r="1.3"/><circle class="b" cx="157.5" cy="487.8" r="1.3"/><circle class="a" cx="162.2" cy="510.7" r="1.3"/><circle class="b" cx="139.3" cy="533.9" r="1.3"/><circle class="a" cx="136.8" cy="550.3" r="1.3"/><circle class="a" cx="110.3" cy="497.1" r="1.3"/><circle class="b" cx="145.2" cy="526.2" r="1.3"/><circle class="a" cx="148.7" cy="543.8" r="1.3"/><circle class="a" cx="194.3" cy="592.9" r="1.3"/><circle class="b" cx="150.8" cy="529.3" r="1.3"/><circle class="a" cx="128.9" cy="535.9" r="1.3"/><circle class="b" cx="132.3" cy="523.1" r="1.3"/><circle class="b" cx="121.8" cy="522.7" r="1.3"/><circle class="a" cx="150.4" cy="551.8" r="1.3"/><circle class="a" cx="132.9" cy="545.3" r="1.3"/><circle class="b" cx="87.7" cy="521.2" r="1.3"/><circle class="c" cx="146.7" cy="535.9" r="1.3"/><circle class="a" cx="174.5" cy="555.2" r="1.3"/><circle class="a" cx="58.4" cy="493.9" r="1.3"/><circle class="c" cx="121.7" cy="508" r="1.3"/><circle class="a" cx="216.1" cy="553.6" r="1.3"/><circle class="b" cx="102" cy="512.7" r="1.3"/><circle class="b" cx="148.5" cy="551.8" r="1.3"/><circle class="c" cx="147.6" cy="514.2" r="1.3"/><circle class="b" cx="100.9" cy="499.2" r="1.3"/><circle class="a" cx="149.5" cy="524.7" r="1.3"/><circle class="c" cx="196.7" cy="563.3" r="1.3"/><circle class="b" cx="154.7" cy="523" r="1.3"/><circle class="a" cx="193.1" cy="560" r="1.3"/><circle class="c" cx="83.8" cy="500.9" r="1.3"/><circle class="a" cx="157.3" cy="500.5" r="1.3"/><circle class="a" cx="159.4" cy="521.9" r="1.3"/><circle class="b" cx="141" cy="505.4" r="1.3"/><circle class="d" cx="133.1" cy="510.3" r="1.3"/><circle class="c" cx="126.1" cy="505.9" r="1.3"/><circle class="a" cx="90.4" cy="533.6" r="1.3"/><circle class="a" cx="83.3" cy="511.2" r="1.3"/><circle class="a" cx="123" cy="526.9" r="1.3"/><circle class="b" cx="186.5" cy="573.8" r="1.3"/><circle class="a" cx="157.5" cy="554.7" r="1.3"/><circle class="a" cx="179.4" cy="514.9" r="1.3"/><circle class="b" cx="165.4" cy="552.3" r="1.3"/><circle class="b" cx="168.2" cy="522" r="1.3"/><circle class="b" cx="132.6" cy="509.9" r="1.3"/><circle class="b" cx="175.4" cy="500.5" r="1.3"/><circle class="b" cx="132.3" cy="538.1" r="1.3"/><circle class="c" cx="148.9" cy="522.1" r="1.3"/><circle class="a" cx="193" cy="504.3" r="1.3"/><circle class="a" cx="150.8" cy="515.7" r="1.3"/><circle class="b" cx="168.3" cy="554.8" r="1.3"/><circle class="a" cx="91.3" cy="527.9" r="1.3"/><circle class="b" cx="140.1" cy="517.1" r="1.3"/><circle class="b" cx="172" cy="561.8" r="1.3"/><circle class="c" cx="99.8" cy="508.6" r="1.3"/><circle class="c" cx="117.2" cy="498.9" r="1.3"/><circle class="b" cx="72.5" cy="504.9" r="1.3"/><circle class="b" cx="124.6" cy="512.4" r="1.3"/><circle class="a" cx="112.4" cy="537.5" r="1.3"/><circle class="a" cx="69.7" cy="541.8" r="1.3"/><circle class="a" cx="132.9" cy="546" r="1.3"/><circle class="b" cx="117.3" cy="518.8" r="1.3"/><circle class="a" cx="182.5" cy="498.7" r="1.3"/><circle class="b" cx="114.4" cy="532.2" r="1.3"/><circle class="a" cx="145" cy="529.4" r="1.3"/><circle class="b" cx="168.9" cy="508.4" r="1.3"/><circle class="b" cx="195.1" cy="547.7" r="1.3"/><circle class="b" cx="167.8" cy="503.4" r="1.3"/><circle class="a" cx="165.4" cy="548.6" r="1.3"/><circle class="a" cx="210.5" cy="541.7" r="1.3"/><circle class="a" cx="136.3" cy="504.1" r="1.3"/><circle class="b" cx="196.8" cy="542.4" r="1.3"/><circle class="a" cx="141.8" cy="503.1" r="1.3"/><circle class="a" cx="119.2" cy="536.9" r="1.3"/><circle class="a" cx="123.9" cy="496.8" r="1.3"/><circle class="b" cx="121.1" cy="514.9" r="1.3"/><circle class="a" cx="143.8" cy="525" r="1.3"/><circle class="a" cx="139.8" cy="540.8" r="1.3"/><circle class="a" cx="133.8" cy="524.9" r="1.3"/><circle class="b" cx="108.7" cy="527.4" r="1.3"/><circle class="a" cx="183.5" cy="540.8" r="1.3"/><circle class="a" cx="134.3" cy="500.5" r="1.3"/><circle class="a" cx="161.8" cy="511.5" r="1.3"/><circle class="a" cx="122.6" cy="502.7" r="1.3"/><circle class="a" cx="169.6" cy="529.9" r="1.3"/><circle class="b" cx="104.1" cy="507.7" r="1.3"/><circle class="b" cx="90.8" cy="495.6" r="1.3"/><circle class="a" cx="171.2" cy="511.5" r="1.3"/><circle class="a" cx="179.8" cy="558.7" r="1.3"/><circle class="a" cx="177.7" cy="504.6" r="1.3"/><circle class="a" cx="198" cy="571.4" r="1.3"/><circle class="a" cx="138.8" cy="534.5" r="1.3"/><circle class="a" cx="120.1" cy="545" r="1.3"/><circle class="c" cx="132.2" cy="515.7" r="1.3"/><circle class="b" cx="144.1" cy="539.8" r="1.3"/><circle class="a" cx="189.7" cy="570.7" r="1.3"/><circle class="a" cx="158.2" cy="560.2" r="1.3"/><circle class="a" cx="123.8" cy="539" r="1.3"/><circle class="a" cx="47.3" cy="509.1" r="1.3"/><circle class="a" cx="159" cy="516.9" r="1.3"/><circle class="b" cx="100" cy="526.7" r="1.3"/><circle class="a" cx="155.3" cy="539.9" r="1.3"/><circle class="c" cx="45.3" cy="495.5" r="1.3"/><circle class="b" cx="98.9" cy="503.2" r="1.3"/><circle class="a" cx="143" cy="506.7" r="1.3"/><circle class="a" cx="122.8" cy="528" r="1.3"/><circle class="a" cx="186.6" cy="596.1" r="1.3"/><circle class="b" cx="191.1" cy="562" r="1.3"/><circle class="b" cx="169.8" cy="555" r="1.3"/><circle class="a" cx="155.1" cy="538" r="1.3"/><circle class="c" cx="185.5" cy="575.1" r="1.3"/><circle class="a" cx="98.7" cy="498.3" r="1.3"/><circle class="a" cx="187.9" cy="642.7" r="1.3"/><circle class="a" cx="188.1" cy="513.5" r="1.3"/><circle class="b" cx="115.6" cy="512.5" r="1.3"/><circle class="a" cx="159" cy="523.7" r="1.3"/><circle class="a" cx="152.3" cy="557.3" r="1.3"/><circle class="a" cx="119.3" cy="537.7" r="1.3"/><circle class="b" cx="155.8" cy="546.6" r="1.3"/><circle class="a" cx="164.6" cy="533.3" r="1.3"/><circle class="b" cx="141" cy="550" r="1.3"/><circle class="b" cx="182.9" cy="551.7" r="1.3"/><circle class="b" cx="156" cy="548.4" r="1.3"/><circle class="a" cx="180.9" cy="554.2" r="1.3"/><circle class="a" cx="131.5" cy="490.7" r="1.3"/><circle class="b" cx="119.2" cy="473.1" r="1.3"/><circle class="a" cx="176.9" cy="556.8" r="1.3"/><circle class="b" cx="127.7" cy="498.8" r="1.3"/><circle class="a" cx="146.9" cy="517.4" r="1.3"/><circle class="a" cx="130.4" cy="549.7" r="1.3"/><circle class="a" cx="138.4" cy="544.9" r="1.3"/><circle class="a" cx="136.2" cy="519.2" r="1.3"/><circle class="a" cx="125.6" cy="568" r="1.3"/><circle class="c" cx="167.7" cy="500.3" r="1.3"/><circle class="b" cx="143.4" cy="557.4" r="1.3"/><circle class="b" cx="168.7" cy="543.4" r="1.3"/><circle class="a" cx="155.2" cy="517.9" r="1.3"/><circle class="b" cx="155.7" cy="549.2" r="1.3"/><circle class="b" cx="56.3" cy="519.8" r="1.3"/><circle class="b" cx="127.8" cy="527.6" r="1.3"/><circle class="b" cx="124.7" cy="525.6" r="1.3"/><circle class="b" cx="115.7" cy="502" r="1.3"/><circle class="b" cx="156.7" cy="556" r="1.3"/><circle class="b" cx="105.1" cy="493.3" r="1.3"/><circle class="a" cx="171.3" cy="538.9" r="1.3"/><circle class="a" cx="62.3" cy="510.7" r="1.3"/><circle class="a" cx="181.2" cy="513.9" r="1.3"/><circle class="b" cx="132.3" cy="521.2" r="1.3"/><circle class="a" cx="165" cy="513.1" r="1.3"/><circle class="b" cx="139.8" cy="508.3" r="1.3"/><circle class="c" cx="177.1" cy="512.1" r="1.3"/><circle class="c" cx="153.8" cy="502.3" r="1.3"/><circle class="a" cx="114.9" cy="498.6" r="1.3"/><circle class="b" cx="120.9" cy="505.7" r="1.3"/><circle class="b" cx="190.5" cy="555.3" r="1.3"/><circle class="a" cx="161.1" cy="534" r="1.3"/><circle class="a" cx="112.9" cy="505.7" r="1.3"/><circle class="c" cx="172.8" cy="560.6" r="1.3"/><circle class="a" cx="179.4" cy="521.5" r="1.3"/><circle class="b" cx="164.9" cy="567.7" r="1.3"/><circle class="d" cx="180.3" cy="559.1" r="1.3"/><circle class="a" cx="186.2" cy="564.7" r="1.3"/><circle class="a" cx="134.6" cy="531.3" r="1.3"/><circle class="b" cx="122.7" cy="517.1" r="1.3"/><circle class="b" cx="138" cy="513.5" r="1.3"/><circle class="a" cx="144.2" cy="546" r="1.3"/><circle class="a" cx="160.6" cy="532.6" r="1.3"/><circle class="c" cx="126.9" cy="498.9" r="1.3"/><circle class="b" cx="116" cy="493.3" r="1.3"/><circle class="c" cx="119.6" cy="520.8" r="1.3"/><circle class="a" cx="132.5" cy="519.8" r="1.3"/><circle class="a" cx="203.5" cy="545.9" r="1.3"/><circle class="b" cx="205.6" cy="541.8" r="1.3"/><circle class="a" cx="113.8" cy="494.2" r="1.3"/><circle class="a" cx="143.4" cy="533.7" r="1.3"/><circle class="b" cx="177.7" cy="601.4" r="1.3"/><circle class="b" cx="127.2" cy="519.4" r="1.3"/><circle class="b" cx="94.9" cy="506.6" r="1.3"/><circle class="b" cx="145.1" cy="513.6" r="1.3"/><circle class="a" cx="156.6" cy="521.9" r="1.3"/><circle class="a" cx="195.8" cy="522" r="1.3"/><circle class="b" cx="88.5" cy="509.6" r="1.3"/><circle class="b" cx="118.2" cy="513.1" r="1.3"/><circle class="a" cx="170.3" cy="559.7" r="1.3"/><circle class="a" cx="167.6" cy="563.2" r="1.3"/><circle class="a" cx="158.7" cy="509.6" r="1.3"/><circle class="a" cx="149.8" cy="547.3" r="1.3"/><circle class="c" cx="158.5" cy="521" r="1.3"/><circle class="b" cx="204.8" cy="539.1" r="1.3"/><circle class="b" cx="81.8" cy="491.8" r="1.3"/><circle class="a" cx="152.3" cy="504.1" r="1.3"/><circle class="b" cx="168.2" cy="501" r="1.3"/><circle class="b" cx="164.5" cy="557.4" r="1.3"/><circle class="b" cx="115" cy="495.2" r="1.3"/><circle class="a" cx="176.5" cy="540.9" r="1.3"/><circle class="b" cx="105.1" cy="495.3" r="1.3"/><circle class="a" cx="150.6" cy="531.9" r="1.3"/><circle class="a" cx="160" cy="534.6" r="1.3"/><circle class="a" cx="168.4" cy="513.7" r="1.3"/><circle class="b" cx="118" cy="506.9" r="1.3"/><circle class="d" cx="133.4" cy="493" r="1.3"/><circle class="a" cx="140.6" cy="503" r="1.3"/><circle class="a" cx="181.7" cy="533.5" r="1.3"/><circle class="a" cx="92.7" cy="522.5" r="1.3"/><circle class="b" cx="159.7" cy="586.5" r="1.3"/><circle class="c" cx="158.8" cy="546.4" r="1.3"/><circle class="a" cx="168.3" cy="504.3" r="1.3"/><circle class="a" cx="133.2" cy="511.4" r="1.3"/><circle class="a" cx="138.2" cy="516.3" r="1.3"/><circle class="c" cx="140.9" cy="530.3" r="1.3"/><circle class="c" cx="127.3" cy="505.4" r="1.3"/><circle class="d" cx="200.9" cy="517.5" r="1.3"/><circle class="b" cx="132.8" cy="503.3" r="1.3"/><circle class="b" cx="112.6" cy="498.3" r="1.3"/><circle class="a" cx="138.7" cy="514.7" r="1.3"/><circle class="b" cx="125.7" cy="519.1" r="1.3"/><circle class="c" cx="97.7" cy="499.8" r="1.3"/><circle class="a" cx="157.8" cy="559.6" r="1.3"/><circle class="a" cx="131.1" cy="517.4" r="1.3"/><circle class="a" cx="175.2" cy="541.5" r="1.3"/><circle class="a" cx="198.5" cy="585.2" r="1.3"/><circle class="b" cx="174.1" cy="515.1" r="1.3"/><circle class="c" cx="109.6" cy="503.1" r="1.3"/><circle class="b" cx="184.6" cy="550" r="1.3"/><circle class="b" cx="131" cy="500.4" r="1.3"/><circle class="b" cx="174.1" cy="532.3" r="1.3"/><circle class="a" cx="145.9" cy="540.2" r="1.3"/><circle class="a" cx="90.8" cy="509.4" r="1.3"/><circle class="b" cx="115.9" cy="513.1" r="1.3"/><circle class="b" cx="147.2" cy="513.2" r="1.3"/><circle class="b" cx="158.2" cy="545.9" r="1.3"/><circle class="c" cx="72.9" cy="516.8" r="1.3"/><circle class="a" cx="140.1" cy="548.6" r="1.3"/><circle class="a" cx="166.8" cy="554.9" r="1.3"/><circle class="a" cx="157.8" cy="562.3" r="1.3"/><circle class="b" cx="149.1" cy="532" r="1.3"/><circle class="c" cx="186.8" cy="546.8" r="1.3"/><circle class="b" cx="88.7" cy="524.8" r="1.3"/><circle class="b" cx="104.3" cy="503.5" r="1.3"/><circle class="a" cx="171.7" cy="527" r="1.3"/><circle class="b" cx="179.4" cy="511" r="1.3"/><circle class="a" cx="86.2" cy="492.2" r="1.3"/><circle class="b" cx="169.3" cy="558" r="1.3"/><circle class="c" cx="138.5" cy="491.5" r="1.3"/><circle class="b" cx="94.7" cy="504.6" r="1.3"/><circle class="a" cx="162.8" cy="502.9" r="1.3"/><circle class="b" cx="143.4" cy="541.2" r="1.3"/><circle class="a" cx="141.3" cy="550.2" r="1.3"/><circle class="a" cx="183.1" cy="543.9" r="1.3"/><circle class="b" cx="162.7" cy="555.2" r="1.3"/><circle class="a" cx="117" cy="501.1" r="1.3"/><circle class="a" cx="160.5" cy="526.8" r="1.3"/><circle class="a" cx="189" cy="581.1" r="1.3"/><circle class="c" cx="127.3" cy="537.8" r="1.3"/><circle class="b" cx="144.2" cy="518.7" r="1.3"/><circle class="b" cx="206.9" cy="501.9" r="1.3"/><circle class="b" cx="123.1" cy="545.5" r="1.3"/><circle class="b" cx="138.9" cy="552.7" r="1.3"/><circle class="d" cx="100.7" cy="480" r="1.3"/><circle class="a" cx="175.5" cy="542.1" r="1.3"/><circle class="b" cx="170.4" cy="520.3" r="1.3"/><circle class="a" cx="172.1" cy="564.9" r="1.3"/><circle class="a" cx="140.7" cy="515.9" r="1.3"/><circle class="a" cx="145.3" cy="545.3" r="1.3"/><circle class="b" cx="132.8" cy="526.9" r="1.3"/><circle class="a" cx="111.8" cy="526.9" r="1.3"/><circle class="b" cx="155.1" cy="506.3" r="1.3"/><circle class="b" cx="135.4" cy="487.5" r="1.3"/><circle class="a" cx="157.5" cy="521.6" r="1.3"/><circle class="b" cx="171.7" cy="552" r="1.3"/><circle class="a" cx="160.5" cy="511.1" r="1.3"/><circle class="c" cx="107.5" cy="518.3" r="1.3"/><circle class="d" cx="103.1" cy="520.2" r="1.3"/><circle class="a" cx="135.4" cy="511.5" r="1.3"/><circle class="c" cx="48.9" cy="515" r="1.3"/><circle class="b" cx="170.2" cy="554.4" r="1.3"/><circle class="d" cx="96.2" cy="516.8" r="1.3"/><circle class="a" cx="131.1" cy="542.3" r="1.3"/><circle class="a" cx="103.1" cy="531.4" r="1.3"/><circle class="a" cx="107.9" cy="529.5" r="1.3"/><circle class="a" cx="149.7" cy="554.2" r="1.3"/><circle class="b" cx="190.5" cy="594.5" r="1.3"/><circle class="c" cx="111.7" cy="507.2" r="1.3"/><circle class="a" cx="115" cy="511.2" r="1.3"/><circle class="a" cx="110.9" cy="543.2" r="1.3"/><circle class="a" cx="124.6" cy="531.9" r="1.3"/><circle class="a" cx="113.2" cy="532.3" r="1.3"/><circle class="c" cx="119.5" cy="537" r="1.3"/><circle class="c" cx="175.7" cy="516.2" r="1.3"/><circle class="b" cx="124.4" cy="518" r="1.3"/><circle class="a" cx="116.7" cy="520.7" r="1.3"/><circle class="b" cx="173.1" cy="510.7" r="1.3"/><circle class="b" cx="115.1" cy="500.1" r="1.3"/><circle class="a" cx="134" cy="514.4" r="1.3"/><circle class="a" cx="166.1" cy="507" r="1.3"/><circle class="a" cx="127.9" cy="511.4" r="1.3"/><circle class="b" cx="161.9" cy="521.2" r="1.3"/><circle class="a" cx="141.6" cy="512.8" r="1.3"/><circle class="b" cx="128.7" cy="495.5" r="1.3"/><circle class="c" cx="79.2" cy="485.7" r="1.3"/><circle class="a" cx="173.3" cy="533.5" r="1.3"/><circle class="c" cx="162.3" cy="514.7" r="1.3"/><circle class="a" cx="148.8" cy="542.8" r="1.3"/><circle class="a" cx="161.8" cy="556.2" r="1.3"/><circle class="a" cx="123.8" cy="540.6" r="1.3"/><circle class="a" cx="111.3" cy="516.7" r="1.3"/><circle class="a" cx="145.3" cy="557" r="1.3"/><circle class="c" cx="82.8" cy="495" r="1.3"/><circle class="c" cx="164.3" cy="569.8" r="1.3"/><circle class="b" cx="148.7" cy="543.4" r="1.3"/><circle class="a" cx="90.3" cy="539.8" r="1.3"/><circle class="d" cx="157.6" cy="545.4" r="1.3"/><circle class="b" cx="133.8" cy="533.5" r="1.3"/><circle class="c" cx="131.7" cy="497.1" r="1.3"/><circle class="a" cx="157.5" cy="551.8" r="1.3"/><circle class="a" cx="76.9" cy="502.1" r="1.3"/><circle class="b" cx="153.1" cy="524.7" r="1.3"/><circle class="a" cx="122.1" cy="557.2" r="1.3"/><circle class="a" cx="126.3" cy="519.5" r="1.3"/><circle class="b" cx="65.7" cy="493.8" r="1.3"/><circle class="a" cx="193.5" cy="588.1" r="1.3"/><circle class="a" cx="154.2" cy="516.9" r="1.3"/><circle class="a" cx="81.1" cy="500.2" r="1.3"/><circle class="a" cx="174.9" cy="524" r="1.3"/><circle class="b" cx="111.8" cy="509" r="1.3"/><circle class="a" cx="167.3" cy="510.4" r="1.3"/><circle class="b" cx="111.8" cy="504.9" r="1.3"/><circle class="a" cx="157" cy="519.3" r="1.3"/><circle class="b" cx="179.1" cy="568.3" r="1.3"/><circle class="b" cx="157.2" cy="515" r="1.3"/><circle class="b" cx="141.9" cy="552.2" r="1.3"/><circle class="b" cx="104.8" cy="511.2" r="1.3"/><circle class="b" cx="169.5" cy="508.2" r="1.3"/><circle class="a" cx="148.7" cy="503.8" r="1.3"/><circle class="a" cx="161.3" cy="546.3" r="1.3"/><circle class="b" cx="173.5" cy="498.4" r="1.3"/><circle class="a" cx="121.9" cy="550.2" r="1.3"/><circle class="a" cx="138.9" cy="489.1" r="1.3"/><circle class="a" cx="82.4" cy="509.7" r="1.3"/><circle class="a" cx="159.9" cy="516.9" r="1.3"/><circle class="a" cx="171" cy="541" r="1.3"/><circle class="a" cx="124.6" cy="510.6" r="1.3"/><circle class="a" cx="140" cy="559.6" r="1.3"/><circle class="c" cx="198.9" cy="566.2" r="1.3"/><circle class="a" cx="174.6" cy="541.5" r="1.3"/><circle class="a" cx="122.2" cy="487.7" r="1.3"/><circle class="a" cx="146.6" cy="511.1" r="1.3"/><circle class="c" cx="129.6" cy="524.3" r="1.3"/><circle class="a" cx="152.3" cy="518.4" r="1.3"/><circle class="a" cx="196.5" cy="527.8" r="1.3"/><circle class="a" cx="125.1" cy="506.7" r="1.3"/><circle class="d" cx="95.6" cy="506.6" r="1.3"/><circle class="c" cx="150" cy="558.1" r="1.3"/><circle class="a" cx="176.3" cy="537.9" r="1.3"/><circle class="b" cx="130" cy="509" r="1.3"/><circle class="a" cx="158.1" cy="509.3" r="1.3"/><circle class="a" cx="173.6" cy="568.9" r="1.3"/><circle class="b" cx="173.1" cy="503.9" r="1.3"/><circle class="a" cx="195.6" cy="622.1" r="1.3"/><circle class="a" cx="121.9" cy="506.1" r="1.3"/><circle class="a" cx="128.9" cy="511.4" r="1.3"/><circle class="a" cx="173.1" cy="547.9" r="1.3"/><circle class="b" cx="178.6" cy="533.1" r="1.3"/><circle class="a" cx="162" cy="553.4" r="1.3"/><circle class="b" cx="122.8" cy="532.2" r="1.3"/><circle class="a" cx="181.9" cy="557.6" r="1.3"/><circle class="b" cx="170.3" cy="521.2" r="1.3"/><circle class="a" cx="70.6" cy="496.7" r="1.3"/><circle class="c" cx="171.9" cy="493.3" r="1.3"/>
</g>
<line x1="38.3" y1="484" x2="242.6" y2="565.4" stroke="#222" stroke-width="0.8"/>
</g>
<rect x="38.3" y="466.4" width="204.3" height="183.7" fill="none" stroke="#707070" stroke-width="0.9"/>
<path d="M72.5 650.1v4.2M123.8 650.1v4.2M175.1 650.1v4.2M226.4 650.1v4.2M38.3 644h-4.2M38.3 612.1h-4.2M38.3 580.1h-4.2M38.3 548.2h-4.2M38.3 516.2h-4.2M38.3 484.3h-4.2" stroke="#707070" stroke-width="0.9" fill="none"/>
<g font-size="9.3" fill="#1a1a1a" text-anchor="middle">
<text x="72.5" y="664.9">6</text>
<text x="123.8" y="664.9">8</text>
<text x="175.1" y="664.9">10</text>
<text x="226.4" y="664.9">12</text>
<text transform="translate(30.2 644) rotate(-90)">8</text>
<text transform="translate(30.2 612.1) rotate(-90)">10</text>
<text transform="translate(30.2 580.1) rotate(-90)">12</text>
<text transform="translate(30.2 548.2) rotate(-90)">14</text>
<text transform="translate(30.2 516.2) rotate(-90)">16</text>
<text transform="translate(30.2 484.3) rotate(-90)">18</text>
<text x="137.2" y="683">miR-141</text>
<text transform="translate(17.4 564.1) rotate(-90)">MYH11</text>
</g>
<text x="40.3" y="477.5" font-size="9.6" fill="#1a1a1a" style="stroke-width:0.08px">Pearson’s r: -0.26</text>
<rect x="169.5" y="616.4" width="73.1" height="33.7" fill="#fff" stroke="#707070" stroke-width="0.9"/>
<g font-size="5.6" fill="#1a1a1a" style="stroke-width:0.05px">
<rect x="174.9" y="621.4" width="4.4" height="3.4" fill="#5b91c1" stroke="#4f5a66" stroke-width="0.55" fill-opacity="0.85"/>
<text x="184.1" y="625.2">Stroma: -0.077-19.2%</text>
<rect x="174.9" y="628.2" width="4.4" height="3.4" fill="#8688a4" stroke="#4f5a66" stroke-width="0.55" fill-opacity="0.85"/>
<text x="184.1" y="632.1">Stroma: 19.2-38.5%</text>
<rect x="174.9" y="635.1" width="4.4" height="3.4" fill="#b67a86" stroke="#4f5a66" stroke-width="0.55" fill-opacity="0.85"/>
<text x="184.1" y="638.9">Stroma: 38.5-57.8%</text>
<rect x="174.9" y="641.9" width="4.4" height="3.4" fill="#d65e5a" stroke="#4f5a66" stroke-width="0.55" fill-opacity="0.85"/>
<text x="184.1" y="645.8">Stroma: 57.8-77.1%</text>
</g>
</g>
<g>
<text x="259.7" y="462" font-size="11" fill="#1a1a1a">F.</text>
<clipPath id="clipF"><rect x="298.4" y="465.8" width="204.1" height="183.4"/></clipPath>
<g clip-path="url(#clipF)">
<g fill-opacity="0.78">
<circle class="b" cx="405.2" cy="545" r="1.3"/><circle class="b" cx="378.4" cy="503.9" r="1.3"/><circle class="a" cx="421.1" cy="508.8" r="1.3"/><circle class="a" cx="427.8" cy="509.8" r="1.3"/><circle class="b" cx="437.3" cy="546.8" r="1.3"/><circle class="a" cx="437.1" cy="553.2" r="1.3"/><circle class="c" cx="484.4" cy="531.3" r="1.3"/><circle class="a" cx="436.1" cy="505.1" r="1.3"/><circle class="a" cx="422" cy="540.8" r="1.3"/><circle class="c" cx="417.9" cy="497.9" r="1.3"/><circle class="c" cx="402.2" cy="565.3" r="1.3"/><circle class="a" cx="418.7" cy="510.5" r="1.3"/><circle class="a" cx="377.2" cy="533.6" r="1.3"/><circle class="a" cx="456.4" cy="533.6" r="1.3"/><circle class="a" cx="441.8" cy="531.6" r="1.3"/><circle class="a" cx="410.6" cy="532.4" r="1.3"/><circle class="b" cx="398.8" cy="518.1" r="1.3"/><circle class="b" cx="428.2" cy="494.6" r="1.3"/><circle class="c" cx="457.5" cy="559.7" r="1.3"/><circle class="a" cx="434.1" cy="559.3" r="1.3"/><circle class="a" cx="409.5" cy="502.8" r="1.3"/><circle class="a" cx="442.5" cy="541.4" r="1.3"/><circle class="c" cx="409.9" cy="529.3" r="1.3"/><circle class="c" cx="401.1" cy="520.1" r="1.3"/><circle class="a" cx="414.4" cy="513.9" r="1.3"/><circle class="a" cx="438.1" cy="516" r="1.3"/><circle class="a" cx="394.5" cy="504.7" r="1.3"/><circle class="a" cx="412" cy="527.1" r="1.3"/><circle class="a" cx="443.4" cy="550.8" r="1.3"/><circle class="b" cx="434.6" cy="508.1" r="1.3"/><circle class="b" cx="426.4" cy="503.9" r="1.3"/><circle class="a" cx="416.7" cy="516.4" r="1.3"/><circle class="c" cx="451.7" cy="517.3" r="1.3"/><circle class="c" cx="304.3" cy="495" r="1.3"/><circle class="b" cx="383.7" cy="550.9" r="1.3"/><circle class="b" cx="424.6" cy="512.2" r="1.3"/><circle class="a" cx="426.7" cy="545.1" r="1.3"/><circle class="c" cx="440.8" cy="507.1" r="1.3"/><circle class="a" cx="462.2" cy="526" r="1.3"/><circle class="b" cx="448.4" cy="545.2" r="1.3"/><circle class="a" cx="425.2" cy="501.1" r="1.3"/><circle class="a" cx="417.7" cy="505.7" r="1.3"/><circle class="b" cx="399.3" cy="512.5" r="1.3"/><circle class="b" cx="400.5" cy="516.4" r="1.3"/><circle class="a" cx="437.2" cy="488.1" r="1.3"/><circle class="a" cx="425" cy="512.5" r="1.3"/><circle class="a" cx="422.5" cy="508.9" r="1.3"/><circle class="b" cx="403.9" cy="556.5" r="1.3"/><circle class="a" cx="414" cy="558.6" r="1.3"/><circle class="a" cx="444.1" cy="520.7" r="1.3"/><circle class="b" cx="423.6" cy="551.8" r="1.3"/><circle class="a" cx="405.1" cy="515.7" r="1.3"/><circle class="a" cx="414.1" cy="540.7" r="1.3"/><circle class="c" cx="378.2" cy="496.1" r="1.3"/><circle class="b" cx="459.1" cy="593.6" r="1.3"/><circle class="a" cx="493.4" cy="570.5" r="1.3"/><circle class="a" cx="400.1" cy="552.4" r="1.3"/><circle class="a" cx="408" cy="540.1" r="1.3"/><circle class="a" cx="420" cy="523" r="1.3"/><circle class="b" cx="402.5" cy="497.8" r="1.3"/><circle class="a" cx="437.9" cy="513.7" r="1.3"/><circle class="c" cx="451.9" cy="501.4" r="1.3"/><circle class="b" cx="435.2" cy="567.4" r="1.3"/><circle class="a" cx="428" cy="510.2" r="1.3"/><circle class="c" cx="455.2" cy="536.8" r="1.3"/><circle class="a" cx="457" cy="536.7" r="1.3"/><circle class="b" cx="441.1" cy="520.2" r="1.3"/><circle class="a" cx="468.5" cy="512.9" r="1.3"/><circle class="c" cx="404" cy="545.5" r="1.3"/><circle class="b" cx="410.6" cy="523.8" r="1.3"/><circle class="a" cx="410.4" cy="512.3" r="1.3"/><circle class="b" cx="430.4" cy="545.6" r="1.3"/><circle class="a" cx="417.3" cy="549.3" r="1.3"/><circle class="a" cx="430.6" cy="503.4" r="1.3"/><circle class="a" cx="402" cy="524" r="1.3"/><circle class="a" cx="413.9" cy="503.1" r="1.3"/><circle class="a" cx="474.3" cy="559.1" r="1.3"/><circle class="b" cx="379.4" cy="502.3" r="1.3"/><circle class="a" cx="438.1" cy="530.4" r="1.3"/><circle class="b" cx="423.8" cy="523.8" r="1.3"/><circle class="a" cx="454.4" cy="554.3" r="1.3"/><circle class="a" cx="470" cy="520.6" r="1.3"/><circle class="b" cx="429.4" cy="538.9" r="1.3"/><circle class="a" cx="466.3" cy="497.7" r="1.3"/><circle class="b" cx="425.5" cy="551.4" r="1.3"/><circle class="b" cx="421.8" cy="542.5" r="1.3"/><circle class="c" cx="402" cy="497.9" r="1.3"/><circle class="a" cx="447" cy="503.6" r="1.3"/><circle class="b" cx="418.3" cy="507.4" r="1.3"/><circle class="c" cx="413.1" cy="506.3" r="1.3"/><circle class="b" cx="429.6" cy="498.2" r="1.3"/><circle class="a" cx="468.7" cy="542.8" r="1.3"/><circle class="a" cx="455.8" cy="524" r="1.3"/><circle class="a" cx="458.2" cy="496.1" r="1.3"/><circle class="a" cx="385.9" cy="526.9" r="1.3"/><circle class="b" cx="362.7" cy="494.2" r="1.3"/><circle class="d" cx="411.1" cy="509.3" r="1.3"/><circle class="b" cx="443.3" cy="509.7" r="1.3"/><circle class="a" cx="417.1" cy="493.2" r="1.3"/><circle class="b" cx="453.5" cy="506.7" r="1.3"/><circle class="b" cx="416.4" cy="505.6" r="1.3"/><circle class="a" cx="437.1" cy="545.6" r="1.3"/><circle class="b" cx="429.8" cy="492.4" r="1.3"/><circle class="a" cx="431" cy="527" r="1.3"/><circle class="c" cx="483.6" cy="528.9" r="1.3"/><circle class="b" cx="418.8" cy="518.5" r="1.3"/><circle class="b" cx="396" cy="556.5" r="1.3"/><circle class="b" cx="399.5" cy="526.7" r="1.3"/><circle class="a" cx="419.8" cy="547" r="1.3"/><circle class="c" cx="419" cy="545.9" r="1.3"/><circle class="c" cx="459.1" cy="508" r="1.3"/><circle class="b" cx="364.5" cy="501" r="1.3"/><circle class="a" cx="397.4" cy="540.6" r="1.3"/><circle class="c" cx="391.8" cy="568.9" r="1.3"/><circle class="d" cx="423.3" cy="515.8" r="1.3"/><circle class="b" cx="397.3" cy="520.3" r="1.3"/><circle class="a" cx="421.9" cy="542.2" r="1.3"/><circle class="a" cx="442.6" cy="518.9" r="1.3"/><circle class="c" cx="406.2" cy="490.5" r="1.3"/><circle class="b" cx="435.5" cy="600.5" r="1.3"/><circle class="a" cx="386.2" cy="516" r="1.3"/><circle class="b" cx="438.3" cy="497.4" r="1.3"/><circle class="a" cx="420.6" cy="553.8" r="1.3"/><circle class="a" cx="442.6" cy="520.9" r="1.3"/><circle class="b" cx="408.2" cy="519.4" r="1.3"/><circle class="b" cx="420.6" cy="514.3" r="1.3"/><circle class="b" cx="447.3" cy="499.1" r="1.3"/><circle class="a" cx="446.1" cy="519.7" r="1.3"/><circle class="b" cx="445.1" cy="502.4" r="1.3"/><circle class="a" cx="404.3" cy="521.9" r="1.3"/><circle class="b" cx="449" cy="500" r="1.3"/><circle class="c" cx="445.2" cy="492.3" r="1.3"/><circle class="a" cx="451.6" cy="558.7" r="1.3"/><circle class="b" cx="417.2" cy="544.5" r="1.3"/><circle class="b" cx="436.9" cy="549.1" r="1.3"/><circle class="a" cx="446.4" cy="532.6" r="1.3"/><circle class="a" cx="417.1" cy="532.6" r="1.3"/><circle class="b" cx="414.7" cy="507.3" r="1.3"/><circle class="a" cx="458.3" cy="556.4" r="1.3"/><circle class="a" cx="407.2" cy="580.8" r="1.3"/><circle class="c" cx="414.7" cy="557.2" r="1.3"/><circle class="b" cx="430.8" cy="566.8" r="1.3"/><circle class="a" cx="454.5" cy="584.3" r="1.3"/><circle class="b" cx="440.6" cy="541.9" r="1.3"/><circle class="a" cx="474.9" cy="508.4" r="1.3"/><circle class="b" cx="411.6" cy="486.5" r="1.3"/><circle class="a" cx="430.1" cy="544" r="1.3"/><circle class="b" cx="427.9" cy="497.7" r="1.3"/><circle class="a" cx="439.5" cy="516.9" r="1.3"/><circle class="b" cx="422.9" cy="494.5" r="1.3"/><circle class="a" cx="403.5" cy="503.1" r="1.3"/><circle class="a" cx="423.4" cy="526.7" r="1.3"/><circle class="d" cx="452.9" cy="491.8" r="1.3"/><circle class="a" cx="421" cy="540.6" r="1.3"/><circle class="a" cx="416.9" cy="505.7" r="1.3"/><circle class="a" cx="397.7" cy="521" r="1.3"/><circle class="b" cx="434.6" cy="508.9" r="1.3"/><circle class="b" cx="390.6" cy="497.4" r="1.3"/><circle class="a" cx="430.7" cy="518.3" r="1.3"/><circle class="c" cx="403.9" cy="574.2" r="1.3"/><circle class="a" cx="454.3" cy="502" r="1.3"/><circle class="b" cx="428.2" cy="531.3" r="1.3"/><circle class="a" cx="397.6" cy="521" r="1.3"/><circle class="a" cx="468" cy="523.8" r="1.3"/><circle class="a" cx="477.6" cy="486.7" r="1.3"/><circle class="c" cx="435.7" cy="505" r="1.3"/><circle class="b" cx="425.6" cy="561" r="1.3"/><circle class="a" cx="423.7" cy="541.2" r="1.3"/><circle class="a" cx="448.5" cy="543" r="1.3"/><circle class="a" cx="451.1" cy="539.3" r="1.3"/><circle class="a" cx="365.3" cy="512.1" r="1.3"/><circle class="b" cx="415.7" cy="554.1" r="1.3"/><circle class="c" cx="425.3" cy="523.3" r="1.3"/><circle class="a" cx="408.9" cy="509.4" r="1.3"/><circle class="d" cx="390.2" cy="544.5" r="1.3"/><circle class="b" cx="457.1" cy="502.5" r="1.3"/><circle class="b" cx="412.5" cy="554.2" r="1.3"/><circle class="a" cx="415.1" cy="491.2" r="1.3"/><circle class="a" cx="452.8" cy="521.6" r="1.3"/><circle class="a" cx="419.4" cy="497.3" r="1.3"/><circle class="a" cx="435" cy="568" r="1.3"/><circle class="a" cx="442.2" cy="495.8" r="1.3"/><circle class="a" cx="470.3" cy="515.3" r="1.3"/><circle class="a" cx="386.1" cy="498.3" r="1.3"/><circle class="a" cx="407.1" cy="555.2" r="1.3"/><circle class="a" cx="421.6" cy="528.5" r="1.3"/><circle class="b" cx="457.5" cy="538.1" r="1.3"/><circle class="b" cx="422.4" cy="556.3" r="1.3"/><circle class="b" cx="429.4" cy="551.3" r="1.3"/><circle class="b" cx="438" cy="548.4" r="1.3"/><circle class="a" cx="340.9" cy="494.5" r="1.3"/><circle class="b" cx="427.5" cy="500" r="1.3"/><circle class="a" cx="410.3" cy="529" r="1.3"/><circle class="b" cx="431" cy="542.5" r="1.3"/><circle class="a" cx="424.8" cy="506" r="1.3"/><circle class="c" cx="400.8" cy="498.8" r="1.3"/><circle class="b" cx="425.4" cy="525.8" r="1.3"/><circle class="a" cx="421" cy="545" r="1.3"/><circle class="a" cx="430.3" cy="547.7" r="1.3"/><circle class="c" cx="433.8" cy="514.7" r="1.3"/><circle class="c" cx="454" cy="502.8" r="1.3"/><circle class="c" cx="422.7" cy="509.4" r="1.3"/><circle class="a" cx="431.5" cy="549.3" r="1.3"/><circle class="b" cx="401.8" cy="505.4" r="1.3"/><circle class="a" cx="378.6" cy="510.5" r="1.3"/><circle class="c" cx="416.9" cy="504.4" r="1.3"/><circle class="c" cx="434.7" cy="525.7" r="1.3"/><circle class="a" cx="416.1" cy="545.3" r="1.3"/><circle class="a" cx="447.4" cy="553.3" r="1.3"/><circle class="a" cx="406.5" cy="502" r="1.3"/><circle class="a" cx="429.3" cy="547.6" r="1.3"/><circle class="a" cx="420.3" cy="554" r="1.3"/><circle class="d" cx="406.1" cy="511.1" r="1.3"/><circle class="d" cx="446.7" cy="479" r="1.3"/><circle class="a" cx="438.9" cy="563.8" r="1.3"/><circle class="b" cx="421.2" cy="517" r="1.3"/><circle class="b" cx="386.3" cy="553.8" r="1.3"/><circle class="b" cx="462.2" cy="511.4" r="1.3"/><circle class="a" cx="435.3" cy="514.9" r="1.3"/><circle class="b" cx="435.9" cy="548.3" r="1.3"/><circle class="a" cx="456" cy="538.9" r="1.3"/><circle class="a" cx="476.6" cy="489.7" r="1.3"/><circle class="b" cx="444.1" cy="511.7" r="1.3"/><circle class="b" cx="419.3" cy="541.4" r="1.3"/><circle class="a" cx="422.5" cy="504.7" r="1.3"/><circle class="a" cx="416.4" cy="532.5" r="1.3"/><circle class="b" cx="416.1" cy="492.3" r="1.3"/><circle class="a" cx="408.5" cy="497.6" r="1.3"/><circle class="b" cx="396.4" cy="512.7" r="1.3"/><circle class="a" cx="436.6" cy="550.9" r="1.3"/><circle class="a" cx="494.4" cy="540.9" r="1.3"/><circle class="b" cx="414.2" cy="525.9" r="1.3"/><circle class="b" cx="416.9" cy="512.3" r="1.3"/><circle class="c" cx="443.1" cy="515.3" r="1.3"/><circle class="a" cx="425" cy="510.2" r="1.3"/><circle class="a" cx="449.8" cy="558.1" r="1.3"/><circle class="c" cx="438.2" cy="499.3" r="1.3"/><circle class="a" cx="380.7" cy="510.1" r="1.3"/><circle class="a" cx="405.2" cy="621.3" r="1.3"/><circle class="b" cx="378.8" cy="515.8" r="1.3"/><circle class="a" cx="439.1" cy="518.5" r="1.3"/><circle class="b" cx="392.6" cy="513.8" r="1.3"/><circle class="a" cx="428.3" cy="511.8" r="1.3"/><circle class="b" cx="440.9" cy="494.5" r="1.3"/><circle class="b" cx="421.2" cy="532.9" r="1.3"/><circle class="a" cx="426.3" cy="526.9" r="1.3"/><circle class="b" cx="367.8" cy="512.1" r="1.3"/><circle class="c" cx="407.3" cy="511.1" r="1.3"/><circle class="b" cx="412.3" cy="528.4" r="1.3"/><circle class="a" cx="432.9" cy="520.6" r="1.3"/><circle class="b" cx="406" cy="550.8" r="1.3"/><circle class="b" cx="403.9" cy="499.4" r="1.3"/><circle class="a" cx="449.3" cy="508.1" r="1.3"/><circle class="b" cx="417.8" cy="531.3" r="1.3"/><circle class="a" cx="427.6" cy="532.6" r="1.3"/><circle class="a" cx="401" cy="577.6" r="1.3"/><circle class="c" cx="405.3" cy="487.7" r="1.3"/><circle class="a" cx="415.7" cy="554" r="1.3"/><circle class="a" cx="436.6" cy="537" r="1.3"/><circle class="a" cx="399.1" cy="532.8" r="1.3"/><circle class="c" cx="418.5" cy="513.3" r="1.3"/><circle class="a" cx="410.4" cy="513.4" r="1.3"/><circle class="b" cx="425.1" cy="526.5" r="1.3"/><circle class="b" cx="428" cy="492.8" r="1.3"/><circle class="b" cx="440.5" cy="560.9" r="1.3"/><circle class="c" cx="414" cy="514.1" r="1.3"/><circle class="a" cx="471.4" cy="536.5" r="1.3"/><circle class="a" cx="440.8" cy="499.6" r="1.3"/><circle class="a" cx="464.8" cy="536" r="1.3"/><circle class="a" cx="410.4" cy="510.5" r="1.3"/><circle class="a" cx="419.3" cy="546.4" r="1.3"/><circle class="a" cx="422.3" cy="510.4" r="1.3"/><circle class="a" cx="377.5" cy="549.4" r="1.3"/><circle class="b" cx="420.2" cy="507.2" r="1.3"/><circle class="b" cx="410.5" cy="511.5" r="1.3"/><circle class="a" cx="436.4" cy="514.7" r="1.3"/><circle class="a" cx="434.9" cy="580.2" r="1.3"/><circle class="a" cx="435.5" cy="525.9" r="1.3"/><circle class="a" cx="424.4" cy="510.5" r="1.3"/><circle class="b" cx="373" cy="504.7" r="1.3"/><circle class="a" cx="410.1" cy="561.4" r="1.3"/><circle class="a" cx="365.8" cy="500.9" r="1.3"/><circle class="b" cx="464.2" cy="538.2" r="1.3"/><circle class="a" cx="412.8" cy="544" r="1.3"/><circle class="a" cx="474.1" cy="562.3" r="1.3"/><circle class="a" cx="440.4" cy="595.2" r="1.3"/><circle class="a" cx="398.6" cy="509.8" r="1.3"/><circle class="a" cx="445.2" cy="515.9" r="1.3"/><circle class="a" cx="426.8" cy="499.2" r="1.3"/><circle class="a" cx="428.6" cy="556.7" r="1.3"/><circle class="b" cx="375.4" cy="499.6" r="1.3"/><circle class="b" cx="413.8" cy="559.4" r="1.3"/><circle class="b" cx="414.6" cy="490.8" r="1.3"/><circle class="a" cx="421.9" cy="516.5" r="1.3"/><circle class="c" cx="453.3" cy="502.1" r="1.3"/><circle class="a" cx="412.1" cy="544.4" r="1.3"/><circle class="b" cx="427.5" cy="514.1" r="1.3"/><circle class="b" cx="470.1" cy="531.4" r="1.3"/><circle class="b" cx="354.5" cy="524.6" r="1.3"/><circle class="a" cx="407.2" cy="531.6" r="1.3"/><circle class="a" cx="382.3" cy="501.7" r="1.3"/><circle class="a" cx="414.2" cy="509.6" r="1.3"/><circle class="b" cx="466.3" cy="520.2" r="1.3"/><circle class="a" cx="456.4" cy="522.7" r="1.3"/><circle class="b" cx="422.1" cy="505.9" r="1.3"/><circle class="c" cx="458.7" cy="535" r="1.3"/><circle class="d" cx="443.7" cy="519.3" r="1.3"/><circle class="a" cx="377.2" cy="506.3" r="1.3"/><circle class="b" cx="402.2" cy="554.4" r="1.3"/><circle class="a" cx="411.9" cy="569.8" r="1.3"/><circle class="d" cx="444.9" cy="516.5" r="1.3"/><circle class="b" cx="419.3" cy="549.1" r="1.3"/><circle class="b" cx="379.2" cy="517.7" r="1.3"/><circle class="b" cx="427.6" cy="573" r="1.3"/><circle class="b" cx="407" cy="514" r="1.3"/><circle class="a" cx="452.6" cy="539.9" r="1.3"/><circle class="a" cx="439.3" cy="541.9" r="1.3"/><circle class="d" cx="428.2" cy="558.2" r="1.3"/><circle class="b" cx="407" cy="504.4" r="1.3"/><circle class="a" cx="422.2" cy="500.1" r="1.3"/><circle class="c" cx="432.5" cy="515.8" r="1.3"/><circle class="b" cx="424.6" cy="525.2" r="1.3"/><circle class="b" cx="432.8" cy="517.9" r="1.3"/><circle class="b" cx="389" cy="486.8" r="1.3"/><circle class="b" cx="463.8" cy="510.2" r="1.3"/><circle class="a" cx="432.5" cy="510.2" r="1.3"/><circle class="d" cx="415.4" cy="505.6" r="1.3"/><circle class="a" cx="452.8" cy="556.3" r="1.3"/><circle class="c" cx="364.8" cy="484.7" r="1.3"/><circle class="b" cx="440.3" cy="557" r="1.3"/><circle class="a" cx="471.6" cy="508.6" r="1.3"/><circle class="a" cx="407.5" cy="495.2" r="1.3"/><circle class="a" cx="414.8" cy="558.8" r="1.3"/><circle class="b" cx="417.2" cy="555.1" r="1.3"/><circle class="a" cx="441.9" cy="531.3" r="1.3"/><circle class="b" cx="423.2" cy="508.1" r="1.3"/><circle class="a" cx="368.2" cy="555.9" r="1.3"/><circle class="a" cx="421.3" cy="557.8" r="1.3"/><circle class="a" cx="424.1" cy="517.4" r="1.3"/><circle class="a" cx="445.4" cy="545.1" r="1.3"/><circle class="a" cx="449.7" cy="537" r="1.3"/><circle class="a" cx="352.1" cy="531.7" r="1.3"/><circle class="b" cx="424.6" cy="494.3" r="1.3"/><circle class="b" cx="433.7" cy="532.6" r="1.3"/><circle class="c" cx="429.8" cy="494.1" r="1.3"/><circle class="a" cx="421.9" cy="544.4" r="1.3"/><circle class="a" cx="469.1" cy="592" r="1.3"/><circle class="a" cx="412.2" cy="502.2" r="1.3"/><circle class="b" cx="407.1" cy="503.7" r="1.3"/><circle class="b" cx="488.2" cy="544.1" r="1.3"/><circle class="c" cx="463.9" cy="536.1" r="1.3"/><circle class="c" cx="391.9" cy="562.4" r="1.3"/><circle class="a" cx="399.9" cy="530.9" r="1.3"/><circle class="b" cx="451.4" cy="540.3" r="1.3"/><circle class="c" cx="434.7" cy="499.9" r="1.3"/><circle class="b" cx="416.2" cy="531" r="1.3"/><circle class="a" cx="460.7" cy="530.4" r="1.3"/><circle class="a" cx="404.3" cy="535.8" r="1.3"/><circle class="b" cx="382.6" cy="537.1" r="1.3"/><circle class="a" cx="374.8" cy="503.3" r="1.3"/><circle class="b" cx="437.3" cy="521.8" r="1.3"/><circle class="a" cx="393.3" cy="526" r="1.3"/><circle class="a" cx="448" cy="509.7" r="1.3"/><circle class="a" cx="392.6" cy="499.5" r="1.3"/><circle class="a" cx="433.8" cy="564" r="1.3"/><circle class="b" cx="426.6" cy="508.6" r="1.3"/><circle class="b" cx="320.1" cy="483.3" r="1.3"/><circle class="b" cx="394.5" cy="516.1" r="1.3"/><circle class="b" cx="480.8" cy="521" r="1.3"/><circle class="a" cx="388.7" cy="525.9" r="1.3"/><circle class="a" cx="433.5" cy="540" r="1.3"/><circle class="c" cx="429.3" cy="519.9" r="1.3"/><circle class="a" cx="446.6" cy="495.8" r="1.3"/><circle class="a" cx="435" cy="533.1" r="1.3"/><circle class="b" cx="401.6" cy="551" r="1.3"/><circle class="a" cx="389" cy="528.5" r="1.3"/><circle class="c" cx="430" cy="513.7" r="1.3"/><circle class="b" cx="437.2" cy="502.4" r="1.3"/><circle class="a" cx="394.2" cy="518.2" r="1.3"/><circle class="a" cx="415.2" cy="538" r="1.3"/><circle class="b" cx="422.4" cy="522.2" r="1.3"/><circle class="a" cx="403.2" cy="514.8" r="1.3"/><circle class="b" cx="373.8" cy="516.1" r="1.3"/><circle class="a" cx="431" cy="510.5" r="1.3"/><circle class="a" cx="419.9" cy="528.9" r="1.3"/><circle class="b" cx="379.4" cy="472.1" r="1.3"/><circle class="b" cx="465.6" cy="553.5" r="1.3"/><circle class="a" cx="440.5" cy="535" r="1.3"/><circle class="b" cx="399.8" cy="502.9" r="1.3"/><circle class="a" cx="452.9" cy="641.9" r="1.3"/><circle class="c" cx="445.4" cy="521.1" r="1.3"/><circle class="a" cx="422.9" cy="539.7" r="1.3"/><circle class="a" cx="439" cy="556.1" r="1.3"/><circle class="b" cx="394.8" cy="520.3" r="1.3"/><circle class="b" cx="424.2" cy="510" r="1.3"/><circle class="a" cx="413.6" cy="587.2" r="1.3"/><circle class="a" cx="431.2" cy="538.8" r="1.3"/><circle class="c" cx="442.8" cy="507.6" r="1.3"/><circle class="a" cx="427.7" cy="539.8" r="1.3"/><circle class="b" cx="440.6" cy="513.9" r="1.3"/><circle class="b" cx="442.1" cy="547.5" r="1.3"/><circle class="d" cx="434" cy="492" r="1.3"/><circle class="a" cx="375.4" cy="508.4" r="1.3"/><circle class="a" cx="412.3" cy="531" r="1.3"/><circle class="a" cx="375.2" cy="522.4" r="1.3"/><circle class="a" cx="440.2" cy="538" r="1.3"/><circle class="a" cx="439.9" cy="548.8" r="1.3"/><circle class="a" cx="377.8" cy="512.7" r="1.3"/><circle class="a" cx="452.5" cy="533.2" r="1.3"/><circle class="b" cx="430.9" cy="522" r="1.3"/>
</g>
<line x1="298.4" y1="496.5" x2="502.5" y2="543.5" stroke="#222" stroke-width="0.8"/>
</g>
<rect x="298.4" y="465.8" width="204.1" height="183.4" fill="none" stroke="#707070" stroke-width="0.9"/>
<path d="M328.4 649.2v4.2M369.9 649.2v4.2M411.4 649.2v4.2M452.9 649.2v4.2M494.4 649.2v4.2M298.4 643.2h-4.2M298.4 611.2h-4.2M298.4 579.2h-4.2M298.4 547.3h-4.2M298.4 515.3h-4.2M298.4 483.3h-4.2" stroke="#707070" stroke-width="0.9" fill="none"/>
<g font-size="9.3" fill="#1a1a1a" text-anchor="middle">
<text x="328.4" y="664">14</text>
<text x="369.9" y="664">15</text>
<text x="411.4" y="664">16</text>
<text x="452.9" y="664">17</text>
<text x="494.4" y="664">18</text>
<text transform="translate(289.8 643.2) rotate(-90)">8</text>
<text transform="translate(289.8 611.2) rotate(-90)">10</text>
<text transform="translate(289.8 579.2) rotate(-90)">12</text>
<text transform="translate(289.8 547.3) rotate(-90)">14</text>
<text transform="translate(289.8 515.3) rotate(-90)">16</text>
<text transform="translate(289.8 483.3) rotate(-90)">18</text>
<text x="412.8" y="683">miR-21</text>
<text transform="translate(271.3 564.1) rotate(-90)">MYH11</text>
</g>
<text x="302.3" y="479.5" font-size="9.6" fill="#1a1a1a" style="stroke-width:0.08px">Pearson’s r: -0.07</text>
<rect x="430.4" y="615" width="72.1" height="34.2" fill="#fff" stroke="#707070" stroke-width="0.9"/>
<g font-size="5.6" fill="#1a1a1a" style="stroke-width:0.05px">
<rect x="435.8" y="620" width="4.4" height="3.4" fill="#5b91c1" stroke="#4f5a66" stroke-width="0.55" fill-opacity="0.85"/>
<text x="445" y="623.8">Stroma: -0.077-19.2%</text>
<rect x="435.8" y="626.9" width="4.4" height="3.4" fill="#8688a4" stroke="#4f5a66" stroke-width="0.55" fill-opacity="0.85"/>
<text x="445" y="630.7">Stroma: 19.2-38.5%</text>
<rect x="435.8" y="633.7" width="4.4" height="3.4" fill="#b67a86" stroke="#4f5a66" stroke-width="0.55" fill-opacity="0.85"/>
<text x="445" y="637.5">Stroma: 38.5-57.8%</text>
<rect x="435.8" y="640.5" width="4.4" height="3.4" fill="#d65e5a" stroke="#4f5a66" stroke-width="0.55" fill-opacity="0.85"/>
<text x="445" y="644.4">Stroma: 57.8-77.1%</text>
</g>
</g>
</svg></body></html>
